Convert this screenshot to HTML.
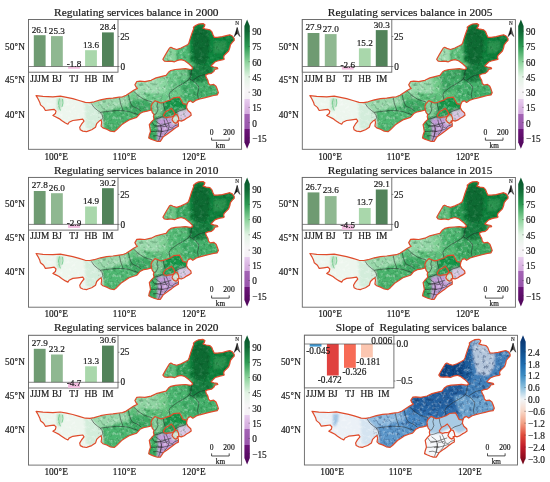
<!DOCTYPE html>
<html><head><meta charset="utf-8"><style>
html,body{margin:0;padding:0;background:#fff;width:550px;height:482px;overflow:hidden}
svg{display:block}
text{stroke:#1a1a1a;stroke-width:0.2px;paint-order:stroke}
</style></head><body>
<svg width="550" height="482" viewBox="0 0 550 482" font-family="'Liberation Serif', 'DejaVu Serif', serif" fill="#1a1a1a">

<defs>
<clipPath id="clipIM"><path d="M36.1,95.6 L42.9,96.4 L52.9,96.8 L60.4,96.2 L66.6,97.4 L72.8,98.7 L79.1,100.5 L85.3,102.4 L90.0,102.6 L94.2,101.8 L100.5,99.9 L106.7,98.7 L112.9,98.1 L119.1,97.2 L122.5,96.8 L126.2,95.3 L130.0,92.8 L133.7,90.3 L137.4,88.4 L136.2,87.2 L134.9,84.7 L136.8,81.5 L139.9,81.2 L144.9,81.6 L151.1,80.3 L156.1,77.9 L161.1,76.6 L166.1,75.4 L168.7,72.0 L170.9,70.5 L175.3,69.5 L180.4,69.1 L185.5,68.7 L190.5,69.5 L192.7,68.7 L192.0,66.9 L189.1,64.0 L184.7,60.7 L181.1,59.6 L177.5,60.4 L174.5,61.8 L170.9,61.1 L167.3,61.5 L164.4,61.1 L162.9,59.3 L165.1,55.3 L167.3,51.6 L169.5,48.0 L170.9,47.3 L173.1,48.4 L176.7,49.5 L181.1,48.0 L185.5,45.8 L188.0,44.4 L189.1,42.2 L190.0,39.2 L191.2,35.4 L192.5,31.7 L193.7,28.6 L193.4,27.3 L195.6,25.5 L198.7,24.0 L203.0,23.6 L204.9,24.8 L204.3,26.7 L203.0,28.2 L206.2,29.2 L209.9,29.8 L211.8,31.7 L213.0,34.8 L214.2,37.3 L217.4,37.3 L222.3,36.7 L227.3,35.4 L229.8,34.8 L232.3,36.0 L234.2,38.5 L234.2,40.4 L232.3,42.3 L230.4,44.8 L229.8,47.9 L228.6,51.0 L226.1,53.5 L224.2,55.4 L223.6,57.2 L224.2,59.1 L223.0,59.7 L219.8,60.3 L217.4,61.0 L214.9,62.0 L212.4,64.5 L211.0,66.0 L213.7,67.0 L217.2,67.6 L217.8,68.7 L214.9,69.3 L213.7,71.6 L211.4,73.4 L207.9,74.0 L205.6,75.1 L206.2,77.4 L207.9,80.3 L208.5,83.3 L210.2,85.0 L213.7,84.4 L216.0,86.2 L217.2,89.1 L218.4,92.6 L217.2,94.9 L213.7,95.5 L209.1,96.6 L204.4,97.8 L199.8,99.0 L196.3,100.1 L192.8,102.4 L190.5,100.7 L188.1,101.9 L187.0,104.5 L186.5,107.5 L188.0,110.5 L190.8,113.0 L191.2,115.3 L188.8,117.0 L186.5,118.2 L184.2,119.9 L181.3,121.1 L179.0,120.5 L177.2,121.1 L178.4,123.4 L178.4,126.3 L176.0,127.5 L173.7,129.2 L171.4,131.0 L169.1,132.7 L166.7,134.4 L163.3,136.8 L161.5,139.7 L160.3,141.4 L157.4,141.4 L154.0,140.3 L151.0,139.1 L148.7,137.9 L149.3,135.0 L150.5,131.5 L149.9,128.0 L149.3,124.6 L151.6,121.7 L154.0,119.3 L153.4,116.4 L154.0,114.7 L152.2,112.3 L151.6,110.0 L147.0,111.2 L143.5,111.8 L140.0,113.5 L137.8,116.1 L136.6,117.4 L132.8,118.6 L129.1,119.9 L125.4,122.3 L121.6,124.8 L119.1,127.3 L116.6,129.8 L114.2,131.7 L110.4,131.1 L106.7,129.2 L102.9,127.9 L101.1,126.1 L101.7,122.3 L101.1,119.9 L99.2,121.1 L96.7,123.6 L95.5,127.3 L91.7,129.8 L88.0,131.1 L86.5,131.7 L82.8,131.1 L80.3,129.8 L79.7,127.3 L81.5,124.2 L84.0,121.1 L82.8,119.2 L77.8,119.9 L72.8,120.5 L69.1,122.3 L67.9,124.2 L65.4,123.0 L61.6,120.5 L59.1,118.6 L55.4,116.7 L52.9,115.5 L55.4,113.6 L56.0,111.1 L54.2,109.3 L49.8,109.9 L45.4,110.5 L43.6,107.4 L40.5,104.9 L39.8,102.4 L38.0,98.7Z"/></clipPath>
<clipPath id="clipHB"><path d="M151.6,110.0 L151.0,106.5 L152.2,103.6 L155.1,100.7 L158.0,101.9 L160.3,103.0 L163.3,102.5 L166.7,101.3 L170.2,100.1 L173.7,97.8 L179.5,97.2 L181.3,100.1 L183.0,103.6 L187.0,104.5 L186.5,107.5 L188.0,110.5 L190.8,113.0 L191.2,115.3 L188.8,117.0 L186.5,118.2 L184.2,119.9 L181.3,121.1 L179.0,120.5 L177.2,121.1 L178.4,123.4 L178.4,126.3 L176.0,127.5 L173.7,129.2 L171.4,131.0 L169.1,132.7 L166.7,134.4 L163.3,136.8 L161.5,139.7 L160.3,141.4 L157.4,141.4 L154.0,140.3 L151.0,139.1 L148.7,137.9 L149.3,135.0 L150.5,131.5 L149.9,128.0 L149.3,124.6 L151.6,121.7 L154.0,119.3 L153.4,116.4 L154.0,114.7 L152.2,112.3Z"/></clipPath>
<filter id="specW" x="0" y="0" width="100%" height="100%" color-interpolation-filters="sRGB">
 <feTurbulence type="fractalNoise" baseFrequency="0.3" numOctaves="3" seed="7"/>
 <feColorMatrix type="matrix" values="0 0 0 0 1  0 0 0 0 1  0 0 0 0 1  -3 0 0 0 1.5"/>
</filter>
<filter id="specD" x="0" y="0" width="100%" height="100%" color-interpolation-filters="sRGB">
 <feTurbulence type="fractalNoise" baseFrequency="0.3" numOctaves="3" seed="3"/>
 <feColorMatrix type="matrix" values="0 0 0 0 0  0 0 0 0 0.25  0 0 0 0 0.1  3 0 0 0 -1.55"/>
</filter>
<mask id="mW" maskUnits="userSpaceOnUse" x="0" y="0" width="260" height="160">
 <rect x="0" y="0" width="260" height="160" fill="#fff"/>
 <g filter="url(#blur3)">
  <path d="M188,15 L245,15 L245,80 L212,80 L200,70 L190,64Z" fill="#444"/>
  <path d="M190,60 L215,60 L215,82 L190,82Z" fill="#777"/>
 </g>
</mask>
<filter id="specB" x="0" y="0" width="100%" height="100%" color-interpolation-filters="sRGB">
 <feTurbulence type="fractalNoise" baseFrequency="0.3" numOctaves="3" seed="3"/>
 <feColorMatrix type="matrix" values="0 0 0 0 0.02  0 0 0 0 0.12  0 0 0 0 0.3  3 0 0 0 -1.55"/>
</filter>
<mask id="mB" maskUnits="userSpaceOnUse" x="0" y="0" width="260" height="160">
 <rect x="0" y="0" width="260" height="160" fill="#fff"/>
 <path d="M151.6,110.0 L151.0,106.5 L152.2,103.6 L155.1,100.7 L158.0,101.9 L160.3,103.0 L163.3,102.5 L166.7,101.3 L170.2,100.1 L173.7,97.8 L179.5,97.2 L181.3,100.1 L183.0,103.6 L187.0,104.5 L186.5,107.5 L188.0,110.5 L190.8,113.0 L191.2,115.3 L188.8,117.0 L186.5,118.2 L184.2,119.9 L181.3,121.1 L179.0,120.5 L177.2,121.1 L178.4,123.4 L178.4,126.3 L176.0,127.5 L173.7,129.2 L171.4,131.0 L169.1,132.7 L166.7,134.4 L163.3,136.8 L161.5,139.7 L160.3,141.4 L157.4,141.4 L154.0,140.3 L151.0,139.1 L148.7,137.9 L149.3,135.0 L150.5,131.5 L149.9,128.0 L149.3,124.6 L151.6,121.7 L154.0,119.3 L153.4,116.4 L154.0,114.7 L152.2,112.3Z" fill="#000"/>
</mask>
<filter id="blur6" x="-50%" y="-50%" width="200%" height="200%"><feGaussianBlur stdDeviation="5"/></filter>
<filter id="blur3" x="-50%" y="-50%" width="200%" height="200%"><feGaussianBlur stdDeviation="2.5"/></filter>
<filter id="blur2" x="-50%" y="-50%" width="200%" height="200%"><feGaussianBlur stdDeviation="1.2"/></filter>
<linearGradient id="gGreenCB" gradientUnits="userSpaceOnUse" x1="0" y1="19.5" x2="0" y2="148.7">
 <stop offset="0.0000" stop-color="#08522a"/>
 <stop offset="0.0890" stop-color="#0e6834"/>
 <stop offset="0.2090" stop-color="#2c9a52"/>
 <stop offset="0.3289" stop-color="#8cd39b"/>
 <stop offset="0.4450" stop-color="#e2f3e4"/>
 <stop offset="0.5457" stop-color="#f7f5f7"/>
 <stop offset="0.6146" stop-color="#f5f0f6"/>
 <stop offset="0.6149" stop-color="#e8ceef"/>
 <stop offset="0.6695" stop-color="#dcb8e4"/>
 <stop offset="0.7276" stop-color="#d3a9de"/>
 <stop offset="0.7279" stop-color="#a363b4"/>
 <stop offset="0.8452" stop-color="#9855ab"/>
 <stop offset="0.8456" stop-color="#6b1478"/>
 <stop offset="1.0000" stop-color="#4d0558"/>
</linearGradient>
<linearGradient id="gSlopeCB" gradientUnits="userSpaceOnUse" x1="0" y1="19.5" x2="0" y2="148.7">
 <stop offset="0" stop-color="#08306b"/>
 <stop offset="0.1285" stop-color="#0f4f8f"/>
 <stop offset="0.2206" stop-color="#1c6aae"/>
 <stop offset="0.3127" stop-color="#3d8dc4"/>
 <stop offset="0.4048" stop-color="#8cc0de"/>
 <stop offset="0.4969" stop-color="#f2f5f7"/>
 <stop offset="0.5890" stop-color="#f8d8c8"/>
 <stop offset="0.6811" stop-color="#f2a084"/>
 <stop offset="0.7732" stop-color="#e04a3a"/>
 <stop offset="0.8653" stop-color="#c01a28"/>
 <stop offset="0.9574" stop-color="#8a0a1e"/>
 <stop offset="1" stop-color="#6a0618"/>
</linearGradient>
<g id="mapg0"><g clip-path="url(#clipIM)">
<g filter="url(#blur2)">
 <rect x="20" y="15" width="230" height="140" fill="#6fc98a"/>
 <path d="M0,80 L90,80 L90,103 L100,112 L104,117 L103,126 L100,145 L0,145Z" fill="#edf6ee"/>
 <path d="M84,100 L92,103 L100,113 L102,125 L97,132 L86,128Z" fill="#d3eddb"/>
 <path d="M90,100 L125,95 L130,104 L112,109 L100,112Z" fill="#9ad8ab"/>
 <path d="M102,112 L128,106 L140,110 L140,122 L118,134 L104,130Z" fill="#48b36c"/>
 <path d="M128,100 L150,100 L152,112 L138,116 L130,110Z" fill="#3ea964"/>
 <path d="M134,80 L170,70 L185,68 L190,80 L185,92 L160,96 L140,98 L134,92Z" fill="#8ad7a0"/>
 <path d="M134,80 L158,74 L160,96 L140,98 L134,92Z" fill="#9fdcb0"/>
 <path d="M166,70 L190,66 L192,82 L186,92 L168,94Z" fill="#6cc789"/>
 <path d="M140,92 L160,94 L182,90 L186,100 L150,104Z" fill="#6cc989"/>
 <path d="M178,80 L215,78 L222,100 L185,102Z" fill="#43af69"/>
 <path d="M186,62 L212,60 L215,80 L190,82Z" fill="#137f3f"/>
 <path d="M155,38 L180,38 L180,66 L155,66Z" fill="#86d49b"/>
 <path d="M176,38 L194,38 L196,66 L176,66Z" fill="#4fba74"/>
 <path d="M188,15 L245,15 L245,68 L215,66 L200,64 L190,62Z" fill="#0b853c"/>
 <path d="M192,30 L208,26 L210,45 L206,64 L194,64Z" fill="#0a6a32"/>
 <path d="M214,42 L226,42 L226,50 L214,54Z" fill="#2a9350"/>
 <path d="M57,98 L63,98 L62,106 L59,111 L57,109Z" fill="#b5e0c0"/>
</g>
<path d="M59.5,98.5 L58.5,103 L59,107 L60.5,110.5 M62.5,99 L63,103 L62,107" fill="none" stroke="#5cc47c" stroke-width="0.9" stroke-opacity="0.8"/>

<g clip-path="url(#clipHB)"><g filter="url(#blur2)">
 <rect x="140" y="90" width="60" height="60" fill="#c49bd9"/>
 <path d="M140,90 L200,90 L200,111 L186,113 L178,116 L165,118 L155,119 L140,119Z" fill="#17964a"/>
 <path d="M148,98 L163,98 L164,110 L160,117 L148,118Z" fill="#7cc992"/>
 <path d="M140,116 L156,116 L158,124 L157,145 L140,145Z" fill="#38aa5f"/>
 <path d="M163,108 L175,107 L175,116 L164,116Z" fill="#2c9f56"/>
 <path d="M178,111 L195,108 L195,124 L178,124Z" fill="#d9c6e4"/>
 <path d="M172,116 L179,116 L179,124 L172,124Z" fill="#d6e6d8"/>
</g></g>
<rect x="30" y="20" width="210" height="128" filter="url(#specW)" opacity="0.38" mask="url(#mW)"/><rect x="98" y="20" width="142" height="128" filter="url(#specD)" opacity="0.3" /></g>
<g fill="none" stroke="#222" stroke-width="0.6" stroke-opacity="0.85"><path d="M91.4,103.5 L93.9,107.3 L97.7,110.5 L100.3,112.4 L102.2,114.9 L102.8,117.5 L101.5,120.0"/><path d="M100.3,112.4 L105.4,111.7 L110.5,111.1 L116.8,110.5 L123.2,110.8 L128.3,111.3 L133.4,113.0 L137.2,114.3 L139.0,115.0"/><path d="M119.4,97.5 L120.6,103.5 L121.9,107.3 L123.2,110.8"/><path d="M128.3,94.5 L129.5,99.6 L130.8,103.5 L132.1,106.0 L135.9,107.9 L138.5,109.2 L141.0,111.1"/><path d="M133.4,91.0 L138.5,95.8 L143.5,99.0 L148.6,100.9 L152.5,102.0"/><path d="M191.6,69.2 L190.9,75.4 L189.5,79.0 L186.5,81.2 L182.2,84.1 L177.8,86.3 L174.9,88.5 L172.0,90.6 L169.8,92.8 L169.1,95.0 L170.2,100.1"/><path d="M189.5,79.0 L193.8,81.2 L196.7,84.1 L198.9,87.0 L198.2,91.4 L197.5,94.3 L198.2,97.9 L199.0,99.0"/><path d="M193.3,79.9 L197.0,77.5 L200.0,75.7 L204.9,74.6"/><path d="M154.0,119.3 L158.0,118.5 L162.0,117.0 L164.4,117.0"/><path d="M165.9,118.3 L167.6,121.6 L169.2,125.7 L168.4,129.1 L166.7,132.4 L164.3,134.9"/><path d="M151.6,121.7 L154.3,125.7 L159.3,125.7 L164.3,126.6 L168.4,125.7"/><path d="M150.5,131.5 L155.1,131.6 L160.1,130.7 L163.4,131.6"/><path d="M161.8,127.4 L160.9,132.4 L160.1,136.5 L158.5,141.0"/><path d="M169.2,127.0 L172.0,128.0 L175.0,125.7 L178.4,124.5"/><path d="M163.3,102.5 L164.0,107.0 L165.6,111.8"/><path d="M174.9,113.5 L179.0,111.0 L184.0,109.5 L186.5,107.5"/><path d="M158.0,101.9 L157.0,106.0 L158.0,110.0 L156.0,114.0 L154.0,114.7"/><path d="M154.4,127.1 L160.0,126.0 L164.0,124.6 L171.3,122.2"/><path d="M158.0,131.9 L162.0,131.5 L166.4,130.7 L173.7,128.3"/><path d="M155.6,121.0 L160.4,124.6 L161.6,130.7 L160.4,136.7"/><path d="M164.0,119.8 L165.2,124.6 L167.6,128.3"/><path d="M153.0,136.0 L157.0,135.5 L160.4,136.7 L163.3,136.8"/></g>
<g fill="none" stroke="#df4b2b" stroke-width="1.2" stroke-linejoin="round"><path d="M151.6,110.0 L151.0,106.5 L152.2,103.6 L155.1,100.7 L158.0,101.9 L160.3,103.0 L163.3,102.5 L166.7,101.3 L170.2,100.1 L173.7,97.8 L179.5,97.2 L181.3,100.1 L183.0,103.6 L187.0,104.5"/><path d="M163.3,115.3 L165.6,111.8 L169.1,110.0 L171.4,108.3 L173.7,111.2 L174.9,113.5 L174.3,115.8 L171.4,117.0 L169.1,117.0 L166.7,117.6 L164.4,117.0Z"/><path d="M174.9,114.1 L177.2,114.7 L178.4,117.0 L179.0,120.5 L177.2,122.2 L176.0,123.4 L173.7,122.2 L172.0,119.9 L173.1,117.0Z"/><path d="M36.1,95.6 L42.9,96.4 L52.9,96.8 L60.4,96.2 L66.6,97.4 L72.8,98.7 L79.1,100.5 L85.3,102.4 L90.0,102.6 L94.2,101.8 L100.5,99.9 L106.7,98.7 L112.9,98.1 L119.1,97.2 L122.5,96.8 L126.2,95.3 L130.0,92.8 L133.7,90.3 L137.4,88.4 L136.2,87.2 L134.9,84.7 L136.8,81.5 L139.9,81.2 L144.9,81.6 L151.1,80.3 L156.1,77.9 L161.1,76.6 L166.1,75.4 L168.7,72.0 L170.9,70.5 L175.3,69.5 L180.4,69.1 L185.5,68.7 L190.5,69.5 L192.7,68.7 L192.0,66.9 L189.1,64.0 L184.7,60.7 L181.1,59.6 L177.5,60.4 L174.5,61.8 L170.9,61.1 L167.3,61.5 L164.4,61.1 L162.9,59.3 L165.1,55.3 L167.3,51.6 L169.5,48.0 L170.9,47.3 L173.1,48.4 L176.7,49.5 L181.1,48.0 L185.5,45.8 L188.0,44.4 L189.1,42.2 L190.0,39.2 L191.2,35.4 L192.5,31.7 L193.7,28.6 L193.4,27.3 L195.6,25.5 L198.7,24.0 L203.0,23.6 L204.9,24.8 L204.3,26.7 L203.0,28.2 L206.2,29.2 L209.9,29.8 L211.8,31.7 L213.0,34.8 L214.2,37.3 L217.4,37.3 L222.3,36.7 L227.3,35.4 L229.8,34.8 L232.3,36.0 L234.2,38.5 L234.2,40.4 L232.3,42.3 L230.4,44.8 L229.8,47.9 L228.6,51.0 L226.1,53.5 L224.2,55.4 L223.6,57.2 L224.2,59.1 L223.0,59.7 L219.8,60.3 L217.4,61.0 L214.9,62.0 L212.4,64.5 L211.0,66.0 L213.7,67.0 L217.2,67.6 L217.8,68.7 L214.9,69.3 L213.7,71.6 L211.4,73.4 L207.9,74.0 L205.6,75.1 L206.2,77.4 L207.9,80.3 L208.5,83.3 L210.2,85.0 L213.7,84.4 L216.0,86.2 L217.2,89.1 L218.4,92.6 L217.2,94.9 L213.7,95.5 L209.1,96.6 L204.4,97.8 L199.8,99.0 L196.3,100.1 L192.8,102.4 L190.5,100.7 L188.1,101.9 L187.0,104.5 L186.5,107.5 L188.0,110.5 L190.8,113.0 L191.2,115.3 L188.8,117.0 L186.5,118.2 L184.2,119.9 L181.3,121.1 L179.0,120.5 L177.2,121.1 L178.4,123.4 L178.4,126.3 L176.0,127.5 L173.7,129.2 L171.4,131.0 L169.1,132.7 L166.7,134.4 L163.3,136.8 L161.5,139.7 L160.3,141.4 L157.4,141.4 L154.0,140.3 L151.0,139.1 L148.7,137.9 L149.3,135.0 L150.5,131.5 L149.9,128.0 L149.3,124.6 L151.6,121.7 L154.0,119.3 L153.4,116.4 L154.0,114.7 L152.2,112.3 L151.6,110.0 L147.0,111.2 L143.5,111.8 L140.0,113.5 L137.8,116.1 L136.6,117.4 L132.8,118.6 L129.1,119.9 L125.4,122.3 L121.6,124.8 L119.1,127.3 L116.6,129.8 L114.2,131.7 L110.4,131.1 L106.7,129.2 L102.9,127.9 L101.1,126.1 L101.7,122.3 L101.1,119.9 L99.2,121.1 L96.7,123.6 L95.5,127.3 L91.7,129.8 L88.0,131.1 L86.5,131.7 L82.8,131.1 L80.3,129.8 L79.7,127.3 L81.5,124.2 L84.0,121.1 L82.8,119.2 L77.8,119.9 L72.8,120.5 L69.1,122.3 L67.9,124.2 L65.4,123.0 L61.6,120.5 L59.1,118.6 L55.4,116.7 L52.9,115.5 L55.4,113.6 L56.0,111.1 L54.2,109.3 L49.8,109.9 L45.4,110.5 L43.6,107.4 L40.5,104.9 L39.8,102.4 L38.0,98.7Z"/></g>
</g><g id="mapg1"><g clip-path="url(#clipIM)">
<g filter="url(#blur2)">
 <rect x="20" y="15" width="230" height="140" fill="#5fc07c"/>
 <path d="M0,80 L90,80 L90,103 L100,112 L104,117 L103,126 L100,145 L0,145Z" fill="#edf6ee"/>
 <path d="M84,100 L92,103 L100,113 L102,125 L97,132 L86,128Z" fill="#d3eddb"/>
 <path d="M90,100 L125,95 L130,104 L112,109 L100,112Z" fill="#9ad8ab"/>
 <path d="M102,112 L128,106 L140,110 L140,122 L118,134 L104,130Z" fill="#4fb872"/>
 <path d="M128,100 L150,100 L152,112 L138,116 L130,110Z" fill="#3ea964"/>
 <path d="M134,80 L170,70 L185,68 L190,80 L185,92 L160,96 L140,98 L134,92Z" fill="#6fca88"/>
 <path d="M134,80 L158,74 L160,96 L140,98 L134,92Z" fill="#98d9aa"/>
 <path d="M166,70 L190,66 L192,82 L186,92 L168,94Z" fill="#3fa965"/>
 <path d="M140,92 L160,94 L182,90 L186,100 L150,104Z" fill="#5cbf7a"/>
 <path d="M178,80 L215,78 L222,100 L185,102Z" fill="#43af69"/>
 <path d="M186,62 L212,60 L215,80 L190,82Z" fill="#137f3f"/>
 <path d="M155,38 L180,38 L180,66 L155,66Z" fill="#a0dcb0"/>
 <path d="M176,38 L194,38 L196,66 L176,66Z" fill="#5cbf7a"/>
 <path d="M188,15 L245,15 L245,68 L215,66 L200,64 L190,62Z" fill="#0b7f3a"/>
 <path d="M192,30 L208,26 L210,45 L206,64 L194,64Z" fill="#0a6a32"/>
 <path d="M214,42 L226,42 L226,50 L214,54Z" fill="#2a9350"/>
 <path d="M57,98 L63,98 L62,106 L59,111 L57,109Z" fill="#b5e0c0"/>
</g>
<path d="M59.5,98.5 L58.5,103 L59,107 L60.5,110.5 M62.5,99 L63,103 L62,107" fill="none" stroke="#5cc47c" stroke-width="0.9" stroke-opacity="0.8"/>

<g clip-path="url(#clipHB)"><g filter="url(#blur2)">
 <rect x="140" y="90" width="60" height="60" fill="#c49bd9"/>
 <path d="M140,90 L200,90 L200,111 L186,113 L178,116 L165,118 L155,119 L140,119Z" fill="#17964a"/>
 <path d="M148,98 L163,98 L164,110 L160,117 L148,118Z" fill="#7cc992"/>
 <path d="M140,116 L156,116 L158,124 L157,145 L140,145Z" fill="#38aa5f"/>
 <path d="M163,108 L175,107 L175,116 L164,116Z" fill="#2c9f56"/>
 <path d="M178,111 L195,108 L195,124 L178,124Z" fill="#d9c6e4"/>
 <path d="M172,116 L179,116 L179,124 L172,124Z" fill="#d6e6d8"/>
</g></g>
<rect x="30" y="20" width="210" height="128" filter="url(#specW)" opacity="0.38" mask="url(#mW)"/><rect x="98" y="20" width="142" height="128" filter="url(#specD)" opacity="0.3" /></g>
<g fill="none" stroke="#222" stroke-width="0.6" stroke-opacity="0.85"><path d="M91.4,103.5 L93.9,107.3 L97.7,110.5 L100.3,112.4 L102.2,114.9 L102.8,117.5 L101.5,120.0"/><path d="M100.3,112.4 L105.4,111.7 L110.5,111.1 L116.8,110.5 L123.2,110.8 L128.3,111.3 L133.4,113.0 L137.2,114.3 L139.0,115.0"/><path d="M119.4,97.5 L120.6,103.5 L121.9,107.3 L123.2,110.8"/><path d="M128.3,94.5 L129.5,99.6 L130.8,103.5 L132.1,106.0 L135.9,107.9 L138.5,109.2 L141.0,111.1"/><path d="M133.4,91.0 L138.5,95.8 L143.5,99.0 L148.6,100.9 L152.5,102.0"/><path d="M191.6,69.2 L190.9,75.4 L189.5,79.0 L186.5,81.2 L182.2,84.1 L177.8,86.3 L174.9,88.5 L172.0,90.6 L169.8,92.8 L169.1,95.0 L170.2,100.1"/><path d="M189.5,79.0 L193.8,81.2 L196.7,84.1 L198.9,87.0 L198.2,91.4 L197.5,94.3 L198.2,97.9 L199.0,99.0"/><path d="M193.3,79.9 L197.0,77.5 L200.0,75.7 L204.9,74.6"/><path d="M154.0,119.3 L158.0,118.5 L162.0,117.0 L164.4,117.0"/><path d="M165.9,118.3 L167.6,121.6 L169.2,125.7 L168.4,129.1 L166.7,132.4 L164.3,134.9"/><path d="M151.6,121.7 L154.3,125.7 L159.3,125.7 L164.3,126.6 L168.4,125.7"/><path d="M150.5,131.5 L155.1,131.6 L160.1,130.7 L163.4,131.6"/><path d="M161.8,127.4 L160.9,132.4 L160.1,136.5 L158.5,141.0"/><path d="M169.2,127.0 L172.0,128.0 L175.0,125.7 L178.4,124.5"/><path d="M163.3,102.5 L164.0,107.0 L165.6,111.8"/><path d="M174.9,113.5 L179.0,111.0 L184.0,109.5 L186.5,107.5"/><path d="M158.0,101.9 L157.0,106.0 L158.0,110.0 L156.0,114.0 L154.0,114.7"/><path d="M154.4,127.1 L160.0,126.0 L164.0,124.6 L171.3,122.2"/><path d="M158.0,131.9 L162.0,131.5 L166.4,130.7 L173.7,128.3"/><path d="M155.6,121.0 L160.4,124.6 L161.6,130.7 L160.4,136.7"/><path d="M164.0,119.8 L165.2,124.6 L167.6,128.3"/><path d="M153.0,136.0 L157.0,135.5 L160.4,136.7 L163.3,136.8"/></g>
<g fill="none" stroke="#df4b2b" stroke-width="1.2" stroke-linejoin="round"><path d="M151.6,110.0 L151.0,106.5 L152.2,103.6 L155.1,100.7 L158.0,101.9 L160.3,103.0 L163.3,102.5 L166.7,101.3 L170.2,100.1 L173.7,97.8 L179.5,97.2 L181.3,100.1 L183.0,103.6 L187.0,104.5"/><path d="M163.3,115.3 L165.6,111.8 L169.1,110.0 L171.4,108.3 L173.7,111.2 L174.9,113.5 L174.3,115.8 L171.4,117.0 L169.1,117.0 L166.7,117.6 L164.4,117.0Z"/><path d="M174.9,114.1 L177.2,114.7 L178.4,117.0 L179.0,120.5 L177.2,122.2 L176.0,123.4 L173.7,122.2 L172.0,119.9 L173.1,117.0Z"/><path d="M36.1,95.6 L42.9,96.4 L52.9,96.8 L60.4,96.2 L66.6,97.4 L72.8,98.7 L79.1,100.5 L85.3,102.4 L90.0,102.6 L94.2,101.8 L100.5,99.9 L106.7,98.7 L112.9,98.1 L119.1,97.2 L122.5,96.8 L126.2,95.3 L130.0,92.8 L133.7,90.3 L137.4,88.4 L136.2,87.2 L134.9,84.7 L136.8,81.5 L139.9,81.2 L144.9,81.6 L151.1,80.3 L156.1,77.9 L161.1,76.6 L166.1,75.4 L168.7,72.0 L170.9,70.5 L175.3,69.5 L180.4,69.1 L185.5,68.7 L190.5,69.5 L192.7,68.7 L192.0,66.9 L189.1,64.0 L184.7,60.7 L181.1,59.6 L177.5,60.4 L174.5,61.8 L170.9,61.1 L167.3,61.5 L164.4,61.1 L162.9,59.3 L165.1,55.3 L167.3,51.6 L169.5,48.0 L170.9,47.3 L173.1,48.4 L176.7,49.5 L181.1,48.0 L185.5,45.8 L188.0,44.4 L189.1,42.2 L190.0,39.2 L191.2,35.4 L192.5,31.7 L193.7,28.6 L193.4,27.3 L195.6,25.5 L198.7,24.0 L203.0,23.6 L204.9,24.8 L204.3,26.7 L203.0,28.2 L206.2,29.2 L209.9,29.8 L211.8,31.7 L213.0,34.8 L214.2,37.3 L217.4,37.3 L222.3,36.7 L227.3,35.4 L229.8,34.8 L232.3,36.0 L234.2,38.5 L234.2,40.4 L232.3,42.3 L230.4,44.8 L229.8,47.9 L228.6,51.0 L226.1,53.5 L224.2,55.4 L223.6,57.2 L224.2,59.1 L223.0,59.7 L219.8,60.3 L217.4,61.0 L214.9,62.0 L212.4,64.5 L211.0,66.0 L213.7,67.0 L217.2,67.6 L217.8,68.7 L214.9,69.3 L213.7,71.6 L211.4,73.4 L207.9,74.0 L205.6,75.1 L206.2,77.4 L207.9,80.3 L208.5,83.3 L210.2,85.0 L213.7,84.4 L216.0,86.2 L217.2,89.1 L218.4,92.6 L217.2,94.9 L213.7,95.5 L209.1,96.6 L204.4,97.8 L199.8,99.0 L196.3,100.1 L192.8,102.4 L190.5,100.7 L188.1,101.9 L187.0,104.5 L186.5,107.5 L188.0,110.5 L190.8,113.0 L191.2,115.3 L188.8,117.0 L186.5,118.2 L184.2,119.9 L181.3,121.1 L179.0,120.5 L177.2,121.1 L178.4,123.4 L178.4,126.3 L176.0,127.5 L173.7,129.2 L171.4,131.0 L169.1,132.7 L166.7,134.4 L163.3,136.8 L161.5,139.7 L160.3,141.4 L157.4,141.4 L154.0,140.3 L151.0,139.1 L148.7,137.9 L149.3,135.0 L150.5,131.5 L149.9,128.0 L149.3,124.6 L151.6,121.7 L154.0,119.3 L153.4,116.4 L154.0,114.7 L152.2,112.3 L151.6,110.0 L147.0,111.2 L143.5,111.8 L140.0,113.5 L137.8,116.1 L136.6,117.4 L132.8,118.6 L129.1,119.9 L125.4,122.3 L121.6,124.8 L119.1,127.3 L116.6,129.8 L114.2,131.7 L110.4,131.1 L106.7,129.2 L102.9,127.9 L101.1,126.1 L101.7,122.3 L101.1,119.9 L99.2,121.1 L96.7,123.6 L95.5,127.3 L91.7,129.8 L88.0,131.1 L86.5,131.7 L82.8,131.1 L80.3,129.8 L79.7,127.3 L81.5,124.2 L84.0,121.1 L82.8,119.2 L77.8,119.9 L72.8,120.5 L69.1,122.3 L67.9,124.2 L65.4,123.0 L61.6,120.5 L59.1,118.6 L55.4,116.7 L52.9,115.5 L55.4,113.6 L56.0,111.1 L54.2,109.3 L49.8,109.9 L45.4,110.5 L43.6,107.4 L40.5,104.9 L39.8,102.4 L38.0,98.7Z"/></g>
</g><g id="mapg2"><g clip-path="url(#clipIM)">
<g filter="url(#blur2)">
 <rect x="20" y="15" width="230" height="140" fill="#62c27f"/>
 <path d="M0,80 L90,80 L90,103 L100,112 L104,117 L103,126 L100,145 L0,145Z" fill="#edf6ee"/>
 <path d="M84,100 L92,103 L100,113 L102,125 L97,132 L86,128Z" fill="#d3eddb"/>
 <path d="M90,100 L125,95 L130,104 L112,109 L100,112Z" fill="#9ad8ab"/>
 <path d="M102,112 L128,106 L140,110 L140,122 L118,134 L104,130Z" fill="#4fb872"/>
 <path d="M128,100 L150,100 L152,112 L138,116 L130,110Z" fill="#3ea964"/>
 <path d="M134,80 L170,70 L185,68 L190,80 L185,92 L160,96 L140,98 L134,92Z" fill="#7fcf94"/>
 <path d="M134,80 L158,74 L160,96 L140,98 L134,92Z" fill="#9ad9ab"/>
 <path d="M166,70 L190,66 L192,82 L186,92 L168,94Z" fill="#55bb76"/>
 <path d="M140,92 L160,94 L182,90 L186,100 L150,104Z" fill="#5fc07c"/>
 <path d="M178,80 L215,78 L222,100 L185,102Z" fill="#43af69"/>
 <path d="M186,62 L212,60 L215,80 L190,82Z" fill="#137f3f"/>
 <path d="M155,38 L180,38 L180,66 L155,66Z" fill="#6cc585"/>
 <path d="M176,38 L194,38 L196,66 L176,66Z" fill="#3aa862"/>
 <path d="M188,15 L245,15 L245,68 L215,66 L200,64 L190,62Z" fill="#0b7f3a"/>
 <path d="M192,30 L208,26 L210,45 L206,64 L194,64Z" fill="#0a6a32"/>
 <path d="M214,42 L226,42 L226,50 L214,54Z" fill="#2a9350"/>
 <path d="M57,98 L63,98 L62,106 L59,111 L57,109Z" fill="#b5e0c0"/>
</g>
<path d="M59.5,98.5 L58.5,103 L59,107 L60.5,110.5 M62.5,99 L63,103 L62,107" fill="none" stroke="#5cc47c" stroke-width="0.9" stroke-opacity="0.8"/>

<g clip-path="url(#clipHB)"><g filter="url(#blur2)">
 <rect x="140" y="90" width="60" height="60" fill="#c49bd9"/>
 <path d="M140,90 L200,90 L200,111 L186,113 L178,116 L165,118 L155,119 L140,119Z" fill="#17964a"/>
 <path d="M148,98 L163,98 L164,110 L160,117 L148,118Z" fill="#7cc992"/>
 <path d="M140,116 L156,116 L158,124 L157,145 L140,145Z" fill="#38aa5f"/>
 <path d="M163,108 L175,107 L175,116 L164,116Z" fill="#2c9f56"/>
 <path d="M178,111 L195,108 L195,124 L178,124Z" fill="#d9c6e4"/>
 <path d="M172,116 L179,116 L179,124 L172,124Z" fill="#d6e6d8"/>
</g></g>
<rect x="30" y="20" width="210" height="128" filter="url(#specW)" opacity="0.38" mask="url(#mW)"/><rect x="98" y="20" width="142" height="128" filter="url(#specD)" opacity="0.3" /></g>
<g fill="none" stroke="#222" stroke-width="0.6" stroke-opacity="0.85"><path d="M91.4,103.5 L93.9,107.3 L97.7,110.5 L100.3,112.4 L102.2,114.9 L102.8,117.5 L101.5,120.0"/><path d="M100.3,112.4 L105.4,111.7 L110.5,111.1 L116.8,110.5 L123.2,110.8 L128.3,111.3 L133.4,113.0 L137.2,114.3 L139.0,115.0"/><path d="M119.4,97.5 L120.6,103.5 L121.9,107.3 L123.2,110.8"/><path d="M128.3,94.5 L129.5,99.6 L130.8,103.5 L132.1,106.0 L135.9,107.9 L138.5,109.2 L141.0,111.1"/><path d="M133.4,91.0 L138.5,95.8 L143.5,99.0 L148.6,100.9 L152.5,102.0"/><path d="M191.6,69.2 L190.9,75.4 L189.5,79.0 L186.5,81.2 L182.2,84.1 L177.8,86.3 L174.9,88.5 L172.0,90.6 L169.8,92.8 L169.1,95.0 L170.2,100.1"/><path d="M189.5,79.0 L193.8,81.2 L196.7,84.1 L198.9,87.0 L198.2,91.4 L197.5,94.3 L198.2,97.9 L199.0,99.0"/><path d="M193.3,79.9 L197.0,77.5 L200.0,75.7 L204.9,74.6"/><path d="M154.0,119.3 L158.0,118.5 L162.0,117.0 L164.4,117.0"/><path d="M165.9,118.3 L167.6,121.6 L169.2,125.7 L168.4,129.1 L166.7,132.4 L164.3,134.9"/><path d="M151.6,121.7 L154.3,125.7 L159.3,125.7 L164.3,126.6 L168.4,125.7"/><path d="M150.5,131.5 L155.1,131.6 L160.1,130.7 L163.4,131.6"/><path d="M161.8,127.4 L160.9,132.4 L160.1,136.5 L158.5,141.0"/><path d="M169.2,127.0 L172.0,128.0 L175.0,125.7 L178.4,124.5"/><path d="M163.3,102.5 L164.0,107.0 L165.6,111.8"/><path d="M174.9,113.5 L179.0,111.0 L184.0,109.5 L186.5,107.5"/><path d="M158.0,101.9 L157.0,106.0 L158.0,110.0 L156.0,114.0 L154.0,114.7"/><path d="M154.4,127.1 L160.0,126.0 L164.0,124.6 L171.3,122.2"/><path d="M158.0,131.9 L162.0,131.5 L166.4,130.7 L173.7,128.3"/><path d="M155.6,121.0 L160.4,124.6 L161.6,130.7 L160.4,136.7"/><path d="M164.0,119.8 L165.2,124.6 L167.6,128.3"/><path d="M153.0,136.0 L157.0,135.5 L160.4,136.7 L163.3,136.8"/></g>
<g fill="none" stroke="#df4b2b" stroke-width="1.2" stroke-linejoin="round"><path d="M151.6,110.0 L151.0,106.5 L152.2,103.6 L155.1,100.7 L158.0,101.9 L160.3,103.0 L163.3,102.5 L166.7,101.3 L170.2,100.1 L173.7,97.8 L179.5,97.2 L181.3,100.1 L183.0,103.6 L187.0,104.5"/><path d="M163.3,115.3 L165.6,111.8 L169.1,110.0 L171.4,108.3 L173.7,111.2 L174.9,113.5 L174.3,115.8 L171.4,117.0 L169.1,117.0 L166.7,117.6 L164.4,117.0Z"/><path d="M174.9,114.1 L177.2,114.7 L178.4,117.0 L179.0,120.5 L177.2,122.2 L176.0,123.4 L173.7,122.2 L172.0,119.9 L173.1,117.0Z"/><path d="M36.1,95.6 L42.9,96.4 L52.9,96.8 L60.4,96.2 L66.6,97.4 L72.8,98.7 L79.1,100.5 L85.3,102.4 L90.0,102.6 L94.2,101.8 L100.5,99.9 L106.7,98.7 L112.9,98.1 L119.1,97.2 L122.5,96.8 L126.2,95.3 L130.0,92.8 L133.7,90.3 L137.4,88.4 L136.2,87.2 L134.9,84.7 L136.8,81.5 L139.9,81.2 L144.9,81.6 L151.1,80.3 L156.1,77.9 L161.1,76.6 L166.1,75.4 L168.7,72.0 L170.9,70.5 L175.3,69.5 L180.4,69.1 L185.5,68.7 L190.5,69.5 L192.7,68.7 L192.0,66.9 L189.1,64.0 L184.7,60.7 L181.1,59.6 L177.5,60.4 L174.5,61.8 L170.9,61.1 L167.3,61.5 L164.4,61.1 L162.9,59.3 L165.1,55.3 L167.3,51.6 L169.5,48.0 L170.9,47.3 L173.1,48.4 L176.7,49.5 L181.1,48.0 L185.5,45.8 L188.0,44.4 L189.1,42.2 L190.0,39.2 L191.2,35.4 L192.5,31.7 L193.7,28.6 L193.4,27.3 L195.6,25.5 L198.7,24.0 L203.0,23.6 L204.9,24.8 L204.3,26.7 L203.0,28.2 L206.2,29.2 L209.9,29.8 L211.8,31.7 L213.0,34.8 L214.2,37.3 L217.4,37.3 L222.3,36.7 L227.3,35.4 L229.8,34.8 L232.3,36.0 L234.2,38.5 L234.2,40.4 L232.3,42.3 L230.4,44.8 L229.8,47.9 L228.6,51.0 L226.1,53.5 L224.2,55.4 L223.6,57.2 L224.2,59.1 L223.0,59.7 L219.8,60.3 L217.4,61.0 L214.9,62.0 L212.4,64.5 L211.0,66.0 L213.7,67.0 L217.2,67.6 L217.8,68.7 L214.9,69.3 L213.7,71.6 L211.4,73.4 L207.9,74.0 L205.6,75.1 L206.2,77.4 L207.9,80.3 L208.5,83.3 L210.2,85.0 L213.7,84.4 L216.0,86.2 L217.2,89.1 L218.4,92.6 L217.2,94.9 L213.7,95.5 L209.1,96.6 L204.4,97.8 L199.8,99.0 L196.3,100.1 L192.8,102.4 L190.5,100.7 L188.1,101.9 L187.0,104.5 L186.5,107.5 L188.0,110.5 L190.8,113.0 L191.2,115.3 L188.8,117.0 L186.5,118.2 L184.2,119.9 L181.3,121.1 L179.0,120.5 L177.2,121.1 L178.4,123.4 L178.4,126.3 L176.0,127.5 L173.7,129.2 L171.4,131.0 L169.1,132.7 L166.7,134.4 L163.3,136.8 L161.5,139.7 L160.3,141.4 L157.4,141.4 L154.0,140.3 L151.0,139.1 L148.7,137.9 L149.3,135.0 L150.5,131.5 L149.9,128.0 L149.3,124.6 L151.6,121.7 L154.0,119.3 L153.4,116.4 L154.0,114.7 L152.2,112.3 L151.6,110.0 L147.0,111.2 L143.5,111.8 L140.0,113.5 L137.8,116.1 L136.6,117.4 L132.8,118.6 L129.1,119.9 L125.4,122.3 L121.6,124.8 L119.1,127.3 L116.6,129.8 L114.2,131.7 L110.4,131.1 L106.7,129.2 L102.9,127.9 L101.1,126.1 L101.7,122.3 L101.1,119.9 L99.2,121.1 L96.7,123.6 L95.5,127.3 L91.7,129.8 L88.0,131.1 L86.5,131.7 L82.8,131.1 L80.3,129.8 L79.7,127.3 L81.5,124.2 L84.0,121.1 L82.8,119.2 L77.8,119.9 L72.8,120.5 L69.1,122.3 L67.9,124.2 L65.4,123.0 L61.6,120.5 L59.1,118.6 L55.4,116.7 L52.9,115.5 L55.4,113.6 L56.0,111.1 L54.2,109.3 L49.8,109.9 L45.4,110.5 L43.6,107.4 L40.5,104.9 L39.8,102.4 L38.0,98.7Z"/></g>
</g><g id="mapg3"><g clip-path="url(#clipIM)">
<g filter="url(#blur2)">
 <rect x="20" y="15" width="230" height="140" fill="#55bb76"/>
 <path d="M0,80 L90,80 L90,103 L100,112 L104,117 L103,126 L100,145 L0,145Z" fill="#edf6ee"/>
 <path d="M84,100 L92,103 L100,113 L102,125 L97,132 L86,128Z" fill="#d3eddb"/>
 <path d="M90,100 L125,95 L130,104 L112,109 L100,112Z" fill="#9ad8ab"/>
 <path d="M102,112 L128,106 L140,110 L140,122 L118,134 L104,130Z" fill="#48b36c"/>
 <path d="M128,100 L150,100 L152,112 L138,116 L130,110Z" fill="#3ea964"/>
 <path d="M134,80 L170,70 L185,68 L190,80 L185,92 L160,96 L140,98 L134,92Z" fill="#7fcf94"/>
 <path d="M134,80 L158,74 L160,96 L140,98 L134,92Z" fill="#94d7a7"/>
 <path d="M166,70 L190,66 L192,82 L186,92 L168,94Z" fill="#4fb872"/>
 <path d="M140,92 L160,94 L182,90 L186,100 L150,104Z" fill="#5cbf7a"/>
 <path d="M178,80 L215,78 L222,100 L185,102Z" fill="#3aa860"/>
 <path d="M186,62 L212,60 L215,80 L190,82Z" fill="#137f3f"/>
 <path d="M155,38 L180,38 L180,66 L155,66Z" fill="#5fbd7b"/>
 <path d="M176,38 L194,38 L196,66 L176,66Z" fill="#2a9a52"/>
 <path d="M188,15 L245,15 L245,68 L215,66 L200,64 L190,62Z" fill="#0b7f3a"/>
 <path d="M192,30 L208,26 L210,45 L206,64 L194,64Z" fill="#0a6a32"/>
 <path d="M214,42 L226,42 L226,50 L214,54Z" fill="#2a9350"/>
 <path d="M57,98 L63,98 L62,106 L59,111 L57,109Z" fill="#b5e0c0"/>
</g>
<path d="M59.5,98.5 L58.5,103 L59,107 L60.5,110.5 M62.5,99 L63,103 L62,107" fill="none" stroke="#5cc47c" stroke-width="0.9" stroke-opacity="0.8"/>

<g clip-path="url(#clipHB)"><g filter="url(#blur2)">
 <rect x="140" y="90" width="60" height="60" fill="#c49bd9"/>
 <path d="M140,90 L200,90 L200,111 L186,113 L178,116 L165,118 L155,119 L140,119Z" fill="#17964a"/>
 <path d="M148,98 L163,98 L164,110 L160,117 L148,118Z" fill="#7cc992"/>
 <path d="M140,116 L156,116 L158,124 L157,145 L140,145Z" fill="#38aa5f"/>
 <path d="M163,108 L175,107 L175,116 L164,116Z" fill="#2c9f56"/>
 <path d="M178,111 L195,108 L195,124 L178,124Z" fill="#d9c6e4"/>
 <path d="M172,116 L179,116 L179,124 L172,124Z" fill="#d6e6d8"/>
</g></g>
<rect x="30" y="20" width="210" height="128" filter="url(#specW)" opacity="0.38" mask="url(#mW)"/><rect x="98" y="20" width="142" height="128" filter="url(#specD)" opacity="0.3" /></g>
<g fill="none" stroke="#222" stroke-width="0.6" stroke-opacity="0.85"><path d="M91.4,103.5 L93.9,107.3 L97.7,110.5 L100.3,112.4 L102.2,114.9 L102.8,117.5 L101.5,120.0"/><path d="M100.3,112.4 L105.4,111.7 L110.5,111.1 L116.8,110.5 L123.2,110.8 L128.3,111.3 L133.4,113.0 L137.2,114.3 L139.0,115.0"/><path d="M119.4,97.5 L120.6,103.5 L121.9,107.3 L123.2,110.8"/><path d="M128.3,94.5 L129.5,99.6 L130.8,103.5 L132.1,106.0 L135.9,107.9 L138.5,109.2 L141.0,111.1"/><path d="M133.4,91.0 L138.5,95.8 L143.5,99.0 L148.6,100.9 L152.5,102.0"/><path d="M191.6,69.2 L190.9,75.4 L189.5,79.0 L186.5,81.2 L182.2,84.1 L177.8,86.3 L174.9,88.5 L172.0,90.6 L169.8,92.8 L169.1,95.0 L170.2,100.1"/><path d="M189.5,79.0 L193.8,81.2 L196.7,84.1 L198.9,87.0 L198.2,91.4 L197.5,94.3 L198.2,97.9 L199.0,99.0"/><path d="M193.3,79.9 L197.0,77.5 L200.0,75.7 L204.9,74.6"/><path d="M154.0,119.3 L158.0,118.5 L162.0,117.0 L164.4,117.0"/><path d="M165.9,118.3 L167.6,121.6 L169.2,125.7 L168.4,129.1 L166.7,132.4 L164.3,134.9"/><path d="M151.6,121.7 L154.3,125.7 L159.3,125.7 L164.3,126.6 L168.4,125.7"/><path d="M150.5,131.5 L155.1,131.6 L160.1,130.7 L163.4,131.6"/><path d="M161.8,127.4 L160.9,132.4 L160.1,136.5 L158.5,141.0"/><path d="M169.2,127.0 L172.0,128.0 L175.0,125.7 L178.4,124.5"/><path d="M163.3,102.5 L164.0,107.0 L165.6,111.8"/><path d="M174.9,113.5 L179.0,111.0 L184.0,109.5 L186.5,107.5"/><path d="M158.0,101.9 L157.0,106.0 L158.0,110.0 L156.0,114.0 L154.0,114.7"/><path d="M154.4,127.1 L160.0,126.0 L164.0,124.6 L171.3,122.2"/><path d="M158.0,131.9 L162.0,131.5 L166.4,130.7 L173.7,128.3"/><path d="M155.6,121.0 L160.4,124.6 L161.6,130.7 L160.4,136.7"/><path d="M164.0,119.8 L165.2,124.6 L167.6,128.3"/><path d="M153.0,136.0 L157.0,135.5 L160.4,136.7 L163.3,136.8"/></g>
<g fill="none" stroke="#df4b2b" stroke-width="1.2" stroke-linejoin="round"><path d="M151.6,110.0 L151.0,106.5 L152.2,103.6 L155.1,100.7 L158.0,101.9 L160.3,103.0 L163.3,102.5 L166.7,101.3 L170.2,100.1 L173.7,97.8 L179.5,97.2 L181.3,100.1 L183.0,103.6 L187.0,104.5"/><path d="M163.3,115.3 L165.6,111.8 L169.1,110.0 L171.4,108.3 L173.7,111.2 L174.9,113.5 L174.3,115.8 L171.4,117.0 L169.1,117.0 L166.7,117.6 L164.4,117.0Z"/><path d="M174.9,114.1 L177.2,114.7 L178.4,117.0 L179.0,120.5 L177.2,122.2 L176.0,123.4 L173.7,122.2 L172.0,119.9 L173.1,117.0Z"/><path d="M36.1,95.6 L42.9,96.4 L52.9,96.8 L60.4,96.2 L66.6,97.4 L72.8,98.7 L79.1,100.5 L85.3,102.4 L90.0,102.6 L94.2,101.8 L100.5,99.9 L106.7,98.7 L112.9,98.1 L119.1,97.2 L122.5,96.8 L126.2,95.3 L130.0,92.8 L133.7,90.3 L137.4,88.4 L136.2,87.2 L134.9,84.7 L136.8,81.5 L139.9,81.2 L144.9,81.6 L151.1,80.3 L156.1,77.9 L161.1,76.6 L166.1,75.4 L168.7,72.0 L170.9,70.5 L175.3,69.5 L180.4,69.1 L185.5,68.7 L190.5,69.5 L192.7,68.7 L192.0,66.9 L189.1,64.0 L184.7,60.7 L181.1,59.6 L177.5,60.4 L174.5,61.8 L170.9,61.1 L167.3,61.5 L164.4,61.1 L162.9,59.3 L165.1,55.3 L167.3,51.6 L169.5,48.0 L170.9,47.3 L173.1,48.4 L176.7,49.5 L181.1,48.0 L185.5,45.8 L188.0,44.4 L189.1,42.2 L190.0,39.2 L191.2,35.4 L192.5,31.7 L193.7,28.6 L193.4,27.3 L195.6,25.5 L198.7,24.0 L203.0,23.6 L204.9,24.8 L204.3,26.7 L203.0,28.2 L206.2,29.2 L209.9,29.8 L211.8,31.7 L213.0,34.8 L214.2,37.3 L217.4,37.3 L222.3,36.7 L227.3,35.4 L229.8,34.8 L232.3,36.0 L234.2,38.5 L234.2,40.4 L232.3,42.3 L230.4,44.8 L229.8,47.9 L228.6,51.0 L226.1,53.5 L224.2,55.4 L223.6,57.2 L224.2,59.1 L223.0,59.7 L219.8,60.3 L217.4,61.0 L214.9,62.0 L212.4,64.5 L211.0,66.0 L213.7,67.0 L217.2,67.6 L217.8,68.7 L214.9,69.3 L213.7,71.6 L211.4,73.4 L207.9,74.0 L205.6,75.1 L206.2,77.4 L207.9,80.3 L208.5,83.3 L210.2,85.0 L213.7,84.4 L216.0,86.2 L217.2,89.1 L218.4,92.6 L217.2,94.9 L213.7,95.5 L209.1,96.6 L204.4,97.8 L199.8,99.0 L196.3,100.1 L192.8,102.4 L190.5,100.7 L188.1,101.9 L187.0,104.5 L186.5,107.5 L188.0,110.5 L190.8,113.0 L191.2,115.3 L188.8,117.0 L186.5,118.2 L184.2,119.9 L181.3,121.1 L179.0,120.5 L177.2,121.1 L178.4,123.4 L178.4,126.3 L176.0,127.5 L173.7,129.2 L171.4,131.0 L169.1,132.7 L166.7,134.4 L163.3,136.8 L161.5,139.7 L160.3,141.4 L157.4,141.4 L154.0,140.3 L151.0,139.1 L148.7,137.9 L149.3,135.0 L150.5,131.5 L149.9,128.0 L149.3,124.6 L151.6,121.7 L154.0,119.3 L153.4,116.4 L154.0,114.7 L152.2,112.3 L151.6,110.0 L147.0,111.2 L143.5,111.8 L140.0,113.5 L137.8,116.1 L136.6,117.4 L132.8,118.6 L129.1,119.9 L125.4,122.3 L121.6,124.8 L119.1,127.3 L116.6,129.8 L114.2,131.7 L110.4,131.1 L106.7,129.2 L102.9,127.9 L101.1,126.1 L101.7,122.3 L101.1,119.9 L99.2,121.1 L96.7,123.6 L95.5,127.3 L91.7,129.8 L88.0,131.1 L86.5,131.7 L82.8,131.1 L80.3,129.8 L79.7,127.3 L81.5,124.2 L84.0,121.1 L82.8,119.2 L77.8,119.9 L72.8,120.5 L69.1,122.3 L67.9,124.2 L65.4,123.0 L61.6,120.5 L59.1,118.6 L55.4,116.7 L52.9,115.5 L55.4,113.6 L56.0,111.1 L54.2,109.3 L49.8,109.9 L45.4,110.5 L43.6,107.4 L40.5,104.9 L39.8,102.4 L38.0,98.7Z"/></g>
</g><g id="mapg4"><g clip-path="url(#clipIM)">
<g filter="url(#blur2)">
 <rect x="20" y="15" width="230" height="140" fill="#5abd78"/>
 <path d="M0,80 L90,80 L90,103 L100,112 L104,117 L103,126 L100,145 L0,145Z" fill="#edf6ee"/>
 <path d="M84,100 L92,103 L100,113 L102,125 L97,132 L86,128Z" fill="#d3eddb"/>
 <path d="M90,100 L125,95 L130,104 L112,109 L100,112Z" fill="#9ad8ab"/>
 <path d="M102,112 L128,106 L140,110 L140,122 L118,134 L104,130Z" fill="#4cb670"/>
 <path d="M128,100 L150,100 L152,112 L138,116 L130,110Z" fill="#3ea964"/>
 <path d="M134,80 L170,70 L185,68 L190,80 L185,92 L160,96 L140,98 L134,92Z" fill="#74cb8b"/>
 <path d="M134,80 L158,74 L160,96 L140,98 L134,92Z" fill="#8fd4a2"/>
 <path d="M166,70 L190,66 L192,82 L186,92 L168,94Z" fill="#4cb670"/>
 <path d="M140,92 L160,94 L182,90 L186,100 L150,104Z" fill="#5abd78"/>
 <path d="M178,80 L215,78 L222,100 L185,102Z" fill="#43af69"/>
 <path d="M186,62 L212,60 L215,80 L190,82Z" fill="#137f3f"/>
 <path d="M155,38 L180,38 L180,66 L155,66Z" fill="#5cbd7b"/>
 <path d="M176,38 L194,38 L196,66 L176,66Z" fill="#2f9d56"/>
 <path d="M188,15 L245,15 L245,68 L215,66 L200,64 L190,62Z" fill="#0b7f3a"/>
 <path d="M192,30 L208,26 L210,45 L206,64 L194,64Z" fill="#0a6a32"/>
 <path d="M214,42 L226,42 L226,50 L214,54Z" fill="#2a9350"/>
 <path d="M57,98 L63,98 L62,106 L59,111 L57,109Z" fill="#b5e0c0"/>
</g>
<path d="M59.5,98.5 L58.5,103 L59,107 L60.5,110.5 M62.5,99 L63,103 L62,107" fill="none" stroke="#5cc47c" stroke-width="0.9" stroke-opacity="0.8"/>

<g clip-path="url(#clipHB)"><g filter="url(#blur2)">
 <rect x="140" y="90" width="60" height="60" fill="#c49bd9"/>
 <path d="M140,90 L200,90 L200,111 L186,113 L178,116 L165,118 L155,119 L140,119Z" fill="#17964a"/>
 <path d="M148,98 L163,98 L164,110 L160,117 L148,118Z" fill="#7cc992"/>
 <path d="M140,116 L156,116 L158,124 L157,145 L140,145Z" fill="#38aa5f"/>
 <path d="M163,108 L175,107 L175,116 L164,116Z" fill="#2c9f56"/>
 <path d="M178,111 L195,108 L195,124 L178,124Z" fill="#d9c6e4"/>
 <path d="M172,116 L179,116 L179,124 L172,124Z" fill="#d6e6d8"/>
</g></g>
<rect x="30" y="20" width="210" height="128" filter="url(#specW)" opacity="0.38" mask="url(#mW)"/><rect x="98" y="20" width="142" height="128" filter="url(#specD)" opacity="0.3" /></g>
<g fill="none" stroke="#222" stroke-width="0.6" stroke-opacity="0.85"><path d="M91.4,103.5 L93.9,107.3 L97.7,110.5 L100.3,112.4 L102.2,114.9 L102.8,117.5 L101.5,120.0"/><path d="M100.3,112.4 L105.4,111.7 L110.5,111.1 L116.8,110.5 L123.2,110.8 L128.3,111.3 L133.4,113.0 L137.2,114.3 L139.0,115.0"/><path d="M119.4,97.5 L120.6,103.5 L121.9,107.3 L123.2,110.8"/><path d="M128.3,94.5 L129.5,99.6 L130.8,103.5 L132.1,106.0 L135.9,107.9 L138.5,109.2 L141.0,111.1"/><path d="M133.4,91.0 L138.5,95.8 L143.5,99.0 L148.6,100.9 L152.5,102.0"/><path d="M191.6,69.2 L190.9,75.4 L189.5,79.0 L186.5,81.2 L182.2,84.1 L177.8,86.3 L174.9,88.5 L172.0,90.6 L169.8,92.8 L169.1,95.0 L170.2,100.1"/><path d="M189.5,79.0 L193.8,81.2 L196.7,84.1 L198.9,87.0 L198.2,91.4 L197.5,94.3 L198.2,97.9 L199.0,99.0"/><path d="M193.3,79.9 L197.0,77.5 L200.0,75.7 L204.9,74.6"/><path d="M154.0,119.3 L158.0,118.5 L162.0,117.0 L164.4,117.0"/><path d="M165.9,118.3 L167.6,121.6 L169.2,125.7 L168.4,129.1 L166.7,132.4 L164.3,134.9"/><path d="M151.6,121.7 L154.3,125.7 L159.3,125.7 L164.3,126.6 L168.4,125.7"/><path d="M150.5,131.5 L155.1,131.6 L160.1,130.7 L163.4,131.6"/><path d="M161.8,127.4 L160.9,132.4 L160.1,136.5 L158.5,141.0"/><path d="M169.2,127.0 L172.0,128.0 L175.0,125.7 L178.4,124.5"/><path d="M163.3,102.5 L164.0,107.0 L165.6,111.8"/><path d="M174.9,113.5 L179.0,111.0 L184.0,109.5 L186.5,107.5"/><path d="M158.0,101.9 L157.0,106.0 L158.0,110.0 L156.0,114.0 L154.0,114.7"/><path d="M154.4,127.1 L160.0,126.0 L164.0,124.6 L171.3,122.2"/><path d="M158.0,131.9 L162.0,131.5 L166.4,130.7 L173.7,128.3"/><path d="M155.6,121.0 L160.4,124.6 L161.6,130.7 L160.4,136.7"/><path d="M164.0,119.8 L165.2,124.6 L167.6,128.3"/><path d="M153.0,136.0 L157.0,135.5 L160.4,136.7 L163.3,136.8"/></g>
<g fill="none" stroke="#df4b2b" stroke-width="1.2" stroke-linejoin="round"><path d="M151.6,110.0 L151.0,106.5 L152.2,103.6 L155.1,100.7 L158.0,101.9 L160.3,103.0 L163.3,102.5 L166.7,101.3 L170.2,100.1 L173.7,97.8 L179.5,97.2 L181.3,100.1 L183.0,103.6 L187.0,104.5"/><path d="M163.3,115.3 L165.6,111.8 L169.1,110.0 L171.4,108.3 L173.7,111.2 L174.9,113.5 L174.3,115.8 L171.4,117.0 L169.1,117.0 L166.7,117.6 L164.4,117.0Z"/><path d="M174.9,114.1 L177.2,114.7 L178.4,117.0 L179.0,120.5 L177.2,122.2 L176.0,123.4 L173.7,122.2 L172.0,119.9 L173.1,117.0Z"/><path d="M36.1,95.6 L42.9,96.4 L52.9,96.8 L60.4,96.2 L66.6,97.4 L72.8,98.7 L79.1,100.5 L85.3,102.4 L90.0,102.6 L94.2,101.8 L100.5,99.9 L106.7,98.7 L112.9,98.1 L119.1,97.2 L122.5,96.8 L126.2,95.3 L130.0,92.8 L133.7,90.3 L137.4,88.4 L136.2,87.2 L134.9,84.7 L136.8,81.5 L139.9,81.2 L144.9,81.6 L151.1,80.3 L156.1,77.9 L161.1,76.6 L166.1,75.4 L168.7,72.0 L170.9,70.5 L175.3,69.5 L180.4,69.1 L185.5,68.7 L190.5,69.5 L192.7,68.7 L192.0,66.9 L189.1,64.0 L184.7,60.7 L181.1,59.6 L177.5,60.4 L174.5,61.8 L170.9,61.1 L167.3,61.5 L164.4,61.1 L162.9,59.3 L165.1,55.3 L167.3,51.6 L169.5,48.0 L170.9,47.3 L173.1,48.4 L176.7,49.5 L181.1,48.0 L185.5,45.8 L188.0,44.4 L189.1,42.2 L190.0,39.2 L191.2,35.4 L192.5,31.7 L193.7,28.6 L193.4,27.3 L195.6,25.5 L198.7,24.0 L203.0,23.6 L204.9,24.8 L204.3,26.7 L203.0,28.2 L206.2,29.2 L209.9,29.8 L211.8,31.7 L213.0,34.8 L214.2,37.3 L217.4,37.3 L222.3,36.7 L227.3,35.4 L229.8,34.8 L232.3,36.0 L234.2,38.5 L234.2,40.4 L232.3,42.3 L230.4,44.8 L229.8,47.9 L228.6,51.0 L226.1,53.5 L224.2,55.4 L223.6,57.2 L224.2,59.1 L223.0,59.7 L219.8,60.3 L217.4,61.0 L214.9,62.0 L212.4,64.5 L211.0,66.0 L213.7,67.0 L217.2,67.6 L217.8,68.7 L214.9,69.3 L213.7,71.6 L211.4,73.4 L207.9,74.0 L205.6,75.1 L206.2,77.4 L207.9,80.3 L208.5,83.3 L210.2,85.0 L213.7,84.4 L216.0,86.2 L217.2,89.1 L218.4,92.6 L217.2,94.9 L213.7,95.5 L209.1,96.6 L204.4,97.8 L199.8,99.0 L196.3,100.1 L192.8,102.4 L190.5,100.7 L188.1,101.9 L187.0,104.5 L186.5,107.5 L188.0,110.5 L190.8,113.0 L191.2,115.3 L188.8,117.0 L186.5,118.2 L184.2,119.9 L181.3,121.1 L179.0,120.5 L177.2,121.1 L178.4,123.4 L178.4,126.3 L176.0,127.5 L173.7,129.2 L171.4,131.0 L169.1,132.7 L166.7,134.4 L163.3,136.8 L161.5,139.7 L160.3,141.4 L157.4,141.4 L154.0,140.3 L151.0,139.1 L148.7,137.9 L149.3,135.0 L150.5,131.5 L149.9,128.0 L149.3,124.6 L151.6,121.7 L154.0,119.3 L153.4,116.4 L154.0,114.7 L152.2,112.3 L151.6,110.0 L147.0,111.2 L143.5,111.8 L140.0,113.5 L137.8,116.1 L136.6,117.4 L132.8,118.6 L129.1,119.9 L125.4,122.3 L121.6,124.8 L119.1,127.3 L116.6,129.8 L114.2,131.7 L110.4,131.1 L106.7,129.2 L102.9,127.9 L101.1,126.1 L101.7,122.3 L101.1,119.9 L99.2,121.1 L96.7,123.6 L95.5,127.3 L91.7,129.8 L88.0,131.1 L86.5,131.7 L82.8,131.1 L80.3,129.8 L79.7,127.3 L81.5,124.2 L84.0,121.1 L82.8,119.2 L77.8,119.9 L72.8,120.5 L69.1,122.3 L67.9,124.2 L65.4,123.0 L61.6,120.5 L59.1,118.6 L55.4,116.7 L52.9,115.5 L55.4,113.6 L56.0,111.1 L54.2,109.3 L49.8,109.9 L45.4,110.5 L43.6,107.4 L40.5,104.9 L39.8,102.4 L38.0,98.7Z"/></g>
</g>
<g id="mapslope"><g clip-path="url(#clipIM)">
<g filter="url(#blur2)">
 <rect x="20" y="15" width="230" height="140" fill="#4585c0"/>
 <path d="M0,80 L90,80 L90,103 L100,112 L104,117 L103,126 L100,145 L0,145Z" fill="#ebf1f7"/>
 <path d="M84,100 L92,103 L100,113 L102,125 L97,132 L86,128Z" fill="#d5e4f1"/>
 <path d="M90,100 L125,95 L130,104 L112,109 L100,112Z" fill="#8fbbdf"/>
 <path d="M102,112 L128,106 L140,110 L140,122 L118,134 L104,130Z" fill="#5b97ca"/>
 <path d="M128,100 L150,100 L152,112 L138,116 L130,110Z" fill="#4787c2"/>
 <path d="M134,80 L170,70 L185,68 L190,80 L185,92 L160,96 L140,98 L134,92Z" fill="#225f9f"/>
 <path d="M140,92 L160,94 L182,90 L186,100 L150,104Z" fill="#2d6dad"/>
 <path d="M178,80 L215,78 L222,100 L185,102Z" fill="#6aa2ce"/>
 <path d="M186,62 L212,60 L215,80 L190,82Z" fill="#3f7fb9"/>
 <path d="M155,38 L194,38 L194,66 L155,66Z" fill="#0e4686"/>
 <path d="M188,15 L245,15 L245,68 L215,66 L200,64 L194,62Z" fill="#3f7eb8"/>
 <path d="M196,26 L212,28 L219,40 L218,52 L212,60 L202,58 L198,44Z" fill="#b4c6dc"/>
 <path d="M194,18 L210,18 L208,28 L196,30Z" fill="#8fb1d4"/>
 <path d="M188,30 L195,30 L196,64 L188,64Z" fill="#1f5d9c"/>
 <path d="M57,98 L63,98 L62,106 L59,111 L57,109Z" fill="#9fc3e2"/>
</g>
<g clip-path="url(#clipHB)"><g filter="url(#blur2)">
 <rect x="140" y="90" width="60" height="60" fill="#f6f8fb"/>
 <path d="M148,95 L195,95 L195,112 L183,118 L175,112 L162,118 L148,118Z" fill="#a9cbe5"/>
</g></g>
<rect x="30" y="20" width="210" height="128" filter="url(#specW)" opacity="0.38" mask="url(#mB)"/><rect x="98" y="20" width="142" height="128" filter="url(#specB)" opacity="0.45" mask="url(#mB)"/></g>
<g fill="none" stroke="#222" stroke-width="0.6" stroke-opacity="0.85"><path d="M91.4,103.5 L93.9,107.3 L97.7,110.5 L100.3,112.4 L102.2,114.9 L102.8,117.5 L101.5,120.0"/><path d="M100.3,112.4 L105.4,111.7 L110.5,111.1 L116.8,110.5 L123.2,110.8 L128.3,111.3 L133.4,113.0 L137.2,114.3 L139.0,115.0"/><path d="M119.4,97.5 L120.6,103.5 L121.9,107.3 L123.2,110.8"/><path d="M128.3,94.5 L129.5,99.6 L130.8,103.5 L132.1,106.0 L135.9,107.9 L138.5,109.2 L141.0,111.1"/><path d="M133.4,91.0 L138.5,95.8 L143.5,99.0 L148.6,100.9 L152.5,102.0"/><path d="M191.6,69.2 L190.9,75.4 L189.5,79.0 L186.5,81.2 L182.2,84.1 L177.8,86.3 L174.9,88.5 L172.0,90.6 L169.8,92.8 L169.1,95.0 L170.2,100.1"/><path d="M189.5,79.0 L193.8,81.2 L196.7,84.1 L198.9,87.0 L198.2,91.4 L197.5,94.3 L198.2,97.9 L199.0,99.0"/><path d="M193.3,79.9 L197.0,77.5 L200.0,75.7 L204.9,74.6"/><path d="M154.0,119.3 L158.0,118.5 L162.0,117.0 L164.4,117.0"/><path d="M165.9,118.3 L167.6,121.6 L169.2,125.7 L168.4,129.1 L166.7,132.4 L164.3,134.9"/><path d="M151.6,121.7 L154.3,125.7 L159.3,125.7 L164.3,126.6 L168.4,125.7"/><path d="M150.5,131.5 L155.1,131.6 L160.1,130.7 L163.4,131.6"/><path d="M161.8,127.4 L160.9,132.4 L160.1,136.5 L158.5,141.0"/><path d="M169.2,127.0 L172.0,128.0 L175.0,125.7 L178.4,124.5"/><path d="M163.3,102.5 L164.0,107.0 L165.6,111.8"/><path d="M174.9,113.5 L179.0,111.0 L184.0,109.5 L186.5,107.5"/><path d="M158.0,101.9 L157.0,106.0 L158.0,110.0 L156.0,114.0 L154.0,114.7"/><path d="M154.4,127.1 L160.0,126.0 L164.0,124.6 L171.3,122.2"/><path d="M158.0,131.9 L162.0,131.5 L166.4,130.7 L173.7,128.3"/><path d="M155.6,121.0 L160.4,124.6 L161.6,130.7 L160.4,136.7"/><path d="M164.0,119.8 L165.2,124.6 L167.6,128.3"/><path d="M153.0,136.0 L157.0,135.5 L160.4,136.7 L163.3,136.8"/></g>
<g fill="none" stroke="#df4b2b" stroke-width="1.2" stroke-linejoin="round"><path d="M151.6,110.0 L151.0,106.5 L152.2,103.6 L155.1,100.7 L158.0,101.9 L160.3,103.0 L163.3,102.5 L166.7,101.3 L170.2,100.1 L173.7,97.8 L179.5,97.2 L181.3,100.1 L183.0,103.6 L187.0,104.5"/><path d="M163.3,115.3 L165.6,111.8 L169.1,110.0 L171.4,108.3 L173.7,111.2 L174.9,113.5 L174.3,115.8 L171.4,117.0 L169.1,117.0 L166.7,117.6 L164.4,117.0Z"/><path d="M174.9,114.1 L177.2,114.7 L178.4,117.0 L179.0,120.5 L177.2,122.2 L176.0,123.4 L173.7,122.2 L172.0,119.9 L173.1,117.0Z"/><path d="M36.1,95.6 L42.9,96.4 L52.9,96.8 L60.4,96.2 L66.6,97.4 L72.8,98.7 L79.1,100.5 L85.3,102.4 L90.0,102.6 L94.2,101.8 L100.5,99.9 L106.7,98.7 L112.9,98.1 L119.1,97.2 L122.5,96.8 L126.2,95.3 L130.0,92.8 L133.7,90.3 L137.4,88.4 L136.2,87.2 L134.9,84.7 L136.8,81.5 L139.9,81.2 L144.9,81.6 L151.1,80.3 L156.1,77.9 L161.1,76.6 L166.1,75.4 L168.7,72.0 L170.9,70.5 L175.3,69.5 L180.4,69.1 L185.5,68.7 L190.5,69.5 L192.7,68.7 L192.0,66.9 L189.1,64.0 L184.7,60.7 L181.1,59.6 L177.5,60.4 L174.5,61.8 L170.9,61.1 L167.3,61.5 L164.4,61.1 L162.9,59.3 L165.1,55.3 L167.3,51.6 L169.5,48.0 L170.9,47.3 L173.1,48.4 L176.7,49.5 L181.1,48.0 L185.5,45.8 L188.0,44.4 L189.1,42.2 L190.0,39.2 L191.2,35.4 L192.5,31.7 L193.7,28.6 L193.4,27.3 L195.6,25.5 L198.7,24.0 L203.0,23.6 L204.9,24.8 L204.3,26.7 L203.0,28.2 L206.2,29.2 L209.9,29.8 L211.8,31.7 L213.0,34.8 L214.2,37.3 L217.4,37.3 L222.3,36.7 L227.3,35.4 L229.8,34.8 L232.3,36.0 L234.2,38.5 L234.2,40.4 L232.3,42.3 L230.4,44.8 L229.8,47.9 L228.6,51.0 L226.1,53.5 L224.2,55.4 L223.6,57.2 L224.2,59.1 L223.0,59.7 L219.8,60.3 L217.4,61.0 L214.9,62.0 L212.4,64.5 L211.0,66.0 L213.7,67.0 L217.2,67.6 L217.8,68.7 L214.9,69.3 L213.7,71.6 L211.4,73.4 L207.9,74.0 L205.6,75.1 L206.2,77.4 L207.9,80.3 L208.5,83.3 L210.2,85.0 L213.7,84.4 L216.0,86.2 L217.2,89.1 L218.4,92.6 L217.2,94.9 L213.7,95.5 L209.1,96.6 L204.4,97.8 L199.8,99.0 L196.3,100.1 L192.8,102.4 L190.5,100.7 L188.1,101.9 L187.0,104.5 L186.5,107.5 L188.0,110.5 L190.8,113.0 L191.2,115.3 L188.8,117.0 L186.5,118.2 L184.2,119.9 L181.3,121.1 L179.0,120.5 L177.2,121.1 L178.4,123.4 L178.4,126.3 L176.0,127.5 L173.7,129.2 L171.4,131.0 L169.1,132.7 L166.7,134.4 L163.3,136.8 L161.5,139.7 L160.3,141.4 L157.4,141.4 L154.0,140.3 L151.0,139.1 L148.7,137.9 L149.3,135.0 L150.5,131.5 L149.9,128.0 L149.3,124.6 L151.6,121.7 L154.0,119.3 L153.4,116.4 L154.0,114.7 L152.2,112.3 L151.6,110.0 L147.0,111.2 L143.5,111.8 L140.0,113.5 L137.8,116.1 L136.6,117.4 L132.8,118.6 L129.1,119.9 L125.4,122.3 L121.6,124.8 L119.1,127.3 L116.6,129.8 L114.2,131.7 L110.4,131.1 L106.7,129.2 L102.9,127.9 L101.1,126.1 L101.7,122.3 L101.1,119.9 L99.2,121.1 L96.7,123.6 L95.5,127.3 L91.7,129.8 L88.0,131.1 L86.5,131.7 L82.8,131.1 L80.3,129.8 L79.7,127.3 L81.5,124.2 L84.0,121.1 L82.8,119.2 L77.8,119.9 L72.8,120.5 L69.1,122.3 L67.9,124.2 L65.4,123.0 L61.6,120.5 L59.1,118.6 L55.4,116.7 L52.9,115.5 L55.4,113.6 L56.0,111.1 L54.2,109.3 L49.8,109.9 L45.4,110.5 L43.6,107.4 L40.5,104.9 L39.8,102.4 L38.0,98.7Z"/></g>
</g>
</defs>

<g transform="translate(0,0)"><text x="136.3" y="15.7" font-size="11.4" text-anchor="middle" style="white-space:pre">Regulating services balance in 2000</text><rect x="28.5" y="19.6" width="213.1" height="129.7" fill="#fff" stroke="#666" stroke-width="0.9"/><use href="#mapg0"/><rect x="28.5" y="19.5" width="89.5" height="52.7" fill="#fff" stroke="#666" stroke-width="0.9"/><rect x="33.8" y="35.2" width="11.8" height="31.3" fill="#6f9b72"/><rect x="51.0" y="36.1" width="11.8" height="30.4" fill="#8fb891"/><rect x="68.1" y="66.5" width="11.8" height="2.2" fill="#f3bde0"/><rect x="85.1" y="50.2" width="11.8" height="16.3" fill="#a9d7ab"/><rect x="102.0" y="32.4" width="11.8" height="34.1" fill="#52835a"/><line x1="28.5" x2="119.5" y1="66.5" y2="66.5" stroke="#555" stroke-width="0.7"/><line x1="118.0" x2="119.5" y1="36.5" y2="36.5" stroke="#555" stroke-width="0.7"/><text x="120.2" y="39.7" font-size="9.3">25</text><text x="120.5" y="69.7" font-size="9.3">0</text><text x="39.7" y="32.6" font-size="9.2" text-anchor="middle">26.1</text><text x="56.9" y="33.5" font-size="9.2" text-anchor="middle">25.3</text><text x="74.0" y="66.7" font-size="9.2" text-anchor="middle">-1.8</text><text x="91.0" y="47.6" font-size="9.2" text-anchor="middle">13.6</text><text x="107.9" y="29.8" font-size="9.2" text-anchor="middle">28.4</text><text x="39.7" y="81.6" font-size="9.3" text-anchor="middle">JJJM</text><text x="56.9" y="81.6" font-size="9.3" text-anchor="middle">BJ</text><text x="74.0" y="81.6" font-size="9.3" text-anchor="middle">TJ</text><text x="91.0" y="81.6" font-size="9.3" text-anchor="middle">HB</text><text x="107.9" y="81.6" font-size="9.3" text-anchor="middle">IM</text><text x="25" y="49.5" font-size="9.3" text-anchor="end">50<tspan font-family="DejaVu Sans" font-size="8">°</tspan>N</text><text x="25" y="83.4" font-size="9.3" text-anchor="end">45<tspan font-family="DejaVu Sans" font-size="8">°</tspan>N</text><text x="25" y="117.6" font-size="9.3" text-anchor="end">40<tspan font-family="DejaVu Sans" font-size="8">°</tspan>N</text><text x="56.2" y="159.6" font-size="9.3" text-anchor="middle">100<tspan font-family="DejaVu Sans" font-size="8">°</tspan>E</text><text x="124.5" y="159.6" font-size="9.3" text-anchor="middle">110<tspan font-family="DejaVu Sans" font-size="8">°</tspan>E</text><text x="193.9" y="159.6" font-size="9.3" text-anchor="middle">120<tspan font-family="DejaVu Sans" font-size="8">°</tspan>E</text><text x="237.1" y="24.9" font-size="5.2" text-anchor="middle" style="stroke-width:0.15px">N</text><path d="M237.2,27.6 L234.1,36.8 L237.3,33.4 Z" fill="#111" stroke="#111" stroke-width="0.4"/><path d="M237.2,27.6 L239.9,36.5 L237.3,33.4 Z" fill="#666" stroke="#111" stroke-width="0.5"/><path d="M211.6,137.6 L211.6,140.2 L229.2,140.2 L229.2,137.6" fill="none" stroke="#222" stroke-width="0.8"/><text x="211.6" y="134.6" font-size="7.6" text-anchor="middle">0</text><text x="229" y="134.6" font-size="7.6" text-anchor="middle">200</text><text x="220.4" y="148.2" font-size="7.2" text-anchor="middle">km</text><path d="M244.4,26.0 L247.1,19.5 L249.8,26.0 L249.8,142.2 L247.1,148.7 L244.4,142.2Z" fill="url(#gGreenCB)"/><line x1="248.60000000000002" x2="249.8" y1="31.2" y2="31.2" stroke="#333" stroke-width="0.5"/><text x="252.20000000000002" y="35.1" font-size="9.3">90</text><line x1="248.60000000000002" x2="249.8" y1="46.4" y2="46.4" stroke="#333" stroke-width="0.5"/><text x="252.20000000000002" y="50.3" font-size="9.3">75</text><line x1="248.60000000000002" x2="249.8" y1="61.7" y2="61.7" stroke="#333" stroke-width="0.5"/><text x="252.20000000000002" y="65.6" font-size="9.3">60</text><line x1="248.60000000000002" x2="249.8" y1="76.9" y2="76.9" stroke="#333" stroke-width="0.5"/><text x="252.20000000000002" y="80.8" font-size="9.3">45</text><line x1="248.60000000000002" x2="249.8" y1="92.2" y2="92.2" stroke="#333" stroke-width="0.5"/><text x="252.20000000000002" y="96.1" font-size="9.3">30</text><line x1="248.60000000000002" x2="249.8" y1="107.4" y2="107.4" stroke="#333" stroke-width="0.5"/><text x="252.20000000000002" y="111.3" font-size="9.3">15</text><line x1="248.60000000000002" x2="249.8" y1="122.6" y2="122.6" stroke="#333" stroke-width="0.5"/><text x="252.20000000000002" y="126.5" font-size="9.3">0</text><line x1="248.60000000000002" x2="249.8" y1="137.9" y2="137.9" stroke="#333" stroke-width="0.5"/><text x="252.20000000000002" y="141.8" font-size="9.3">−15</text></g>
<g transform="translate(273.8,0)"><text x="136.3" y="15.7" font-size="11.4" text-anchor="middle" style="white-space:pre">Regulating services balance in 2005</text><rect x="28.5" y="19.6" width="213.1" height="129.7" fill="#fff" stroke="#666" stroke-width="0.9"/><use href="#mapg1"/><rect x="28.5" y="19.5" width="89.5" height="52.7" fill="#fff" stroke="#666" stroke-width="0.9"/><rect x="33.8" y="33.0" width="11.8" height="33.5" fill="#6f9b72"/><rect x="51.0" y="34.1" width="11.8" height="32.4" fill="#8fb891"/><rect x="68.1" y="66.5" width="11.8" height="3.1" fill="#f3bde0"/><rect x="85.1" y="48.3" width="11.8" height="18.2" fill="#a9d7ab"/><rect x="102.0" y="30.1" width="11.8" height="36.4" fill="#52835a"/><line x1="28.5" x2="119.5" y1="66.5" y2="66.5" stroke="#555" stroke-width="0.7"/><line x1="118.0" x2="119.5" y1="36.5" y2="36.5" stroke="#555" stroke-width="0.7"/><text x="120.2" y="39.7" font-size="9.3">25</text><text x="120.5" y="69.7" font-size="9.3">0</text><text x="39.7" y="30.4" font-size="9.2" text-anchor="middle">27.9</text><text x="56.9" y="31.5" font-size="9.2" text-anchor="middle">27.0</text><text x="74.0" y="67.6" font-size="9.2" text-anchor="middle">-2.6</text><text x="91.0" y="45.7" font-size="9.2" text-anchor="middle">15.2</text><text x="107.9" y="27.5" font-size="9.2" text-anchor="middle">30.3</text><text x="39.7" y="81.6" font-size="9.3" text-anchor="middle">JJJM</text><text x="56.9" y="81.6" font-size="9.3" text-anchor="middle">BJ</text><text x="74.0" y="81.6" font-size="9.3" text-anchor="middle">TJ</text><text x="91.0" y="81.6" font-size="9.3" text-anchor="middle">HB</text><text x="107.9" y="81.6" font-size="9.3" text-anchor="middle">IM</text><text x="25" y="49.5" font-size="9.3" text-anchor="end">50<tspan font-family="DejaVu Sans" font-size="8">°</tspan>N</text><text x="25" y="83.4" font-size="9.3" text-anchor="end">45<tspan font-family="DejaVu Sans" font-size="8">°</tspan>N</text><text x="25" y="117.6" font-size="9.3" text-anchor="end">40<tspan font-family="DejaVu Sans" font-size="8">°</tspan>N</text><text x="56.2" y="159.6" font-size="9.3" text-anchor="middle">100<tspan font-family="DejaVu Sans" font-size="8">°</tspan>E</text><text x="124.5" y="159.6" font-size="9.3" text-anchor="middle">110<tspan font-family="DejaVu Sans" font-size="8">°</tspan>E</text><text x="193.9" y="159.6" font-size="9.3" text-anchor="middle">120<tspan font-family="DejaVu Sans" font-size="8">°</tspan>E</text><text x="237.1" y="24.9" font-size="5.2" text-anchor="middle" style="stroke-width:0.15px">N</text><path d="M237.2,27.6 L234.1,36.8 L237.3,33.4 Z" fill="#111" stroke="#111" stroke-width="0.4"/><path d="M237.2,27.6 L239.9,36.5 L237.3,33.4 Z" fill="#666" stroke="#111" stroke-width="0.5"/><path d="M211.6,137.6 L211.6,140.2 L229.2,140.2 L229.2,137.6" fill="none" stroke="#222" stroke-width="0.8"/><text x="211.6" y="134.6" font-size="7.6" text-anchor="middle">0</text><text x="229" y="134.6" font-size="7.6" text-anchor="middle">200</text><text x="220.4" y="148.2" font-size="7.2" text-anchor="middle">km</text><path d="M244.4,26.0 L247.1,19.5 L249.8,26.0 L249.8,142.2 L247.1,148.7 L244.4,142.2Z" fill="url(#gGreenCB)"/><line x1="248.60000000000002" x2="249.8" y1="31.2" y2="31.2" stroke="#333" stroke-width="0.5"/><text x="252.20000000000002" y="35.1" font-size="9.3">90</text><line x1="248.60000000000002" x2="249.8" y1="46.4" y2="46.4" stroke="#333" stroke-width="0.5"/><text x="252.20000000000002" y="50.3" font-size="9.3">75</text><line x1="248.60000000000002" x2="249.8" y1="61.7" y2="61.7" stroke="#333" stroke-width="0.5"/><text x="252.20000000000002" y="65.6" font-size="9.3">60</text><line x1="248.60000000000002" x2="249.8" y1="76.9" y2="76.9" stroke="#333" stroke-width="0.5"/><text x="252.20000000000002" y="80.8" font-size="9.3">45</text><line x1="248.60000000000002" x2="249.8" y1="92.2" y2="92.2" stroke="#333" stroke-width="0.5"/><text x="252.20000000000002" y="96.1" font-size="9.3">30</text><line x1="248.60000000000002" x2="249.8" y1="107.4" y2="107.4" stroke="#333" stroke-width="0.5"/><text x="252.20000000000002" y="111.3" font-size="9.3">15</text><line x1="248.60000000000002" x2="249.8" y1="122.6" y2="122.6" stroke="#333" stroke-width="0.5"/><text x="252.20000000000002" y="126.5" font-size="9.3">0</text><line x1="248.60000000000002" x2="249.8" y1="137.9" y2="137.9" stroke="#333" stroke-width="0.5"/><text x="252.20000000000002" y="141.8" font-size="9.3">−15</text></g>
<g transform="translate(0,157.9)"><text x="136.3" y="15.7" font-size="11.4" text-anchor="middle" style="white-space:pre">Regulating services balance in 2010</text><rect x="28.5" y="19.6" width="213.1" height="129.7" fill="#fff" stroke="#666" stroke-width="0.9"/><use href="#mapg2"/><rect x="28.5" y="19.5" width="89.5" height="52.7" fill="#fff" stroke="#666" stroke-width="0.9"/><rect x="33.8" y="33.1" width="11.8" height="33.4" fill="#6f9b72"/><rect x="51.0" y="35.3" width="11.8" height="31.2" fill="#8fb891"/><rect x="68.1" y="66.5" width="11.8" height="3.5" fill="#f3bde0"/><rect x="85.1" y="48.6" width="11.8" height="17.9" fill="#a9d7ab"/><rect x="102.0" y="30.3" width="11.8" height="36.2" fill="#52835a"/><line x1="28.5" x2="119.5" y1="66.5" y2="66.5" stroke="#555" stroke-width="0.7"/><line x1="118.0" x2="119.5" y1="36.5" y2="36.5" stroke="#555" stroke-width="0.7"/><text x="120.2" y="39.7" font-size="9.3">25</text><text x="120.5" y="69.7" font-size="9.3">0</text><text x="39.7" y="30.5" font-size="9.2" text-anchor="middle">27.8</text><text x="56.9" y="32.7" font-size="9.2" text-anchor="middle">26.0</text><text x="74.0" y="68.0" font-size="9.2" text-anchor="middle">-2.9</text><text x="91.0" y="46.0" font-size="9.2" text-anchor="middle">14.9</text><text x="107.9" y="27.7" font-size="9.2" text-anchor="middle">30.2</text><text x="39.7" y="81.6" font-size="9.3" text-anchor="middle">JJJM</text><text x="56.9" y="81.6" font-size="9.3" text-anchor="middle">BJ</text><text x="74.0" y="81.6" font-size="9.3" text-anchor="middle">TJ</text><text x="91.0" y="81.6" font-size="9.3" text-anchor="middle">HB</text><text x="107.9" y="81.6" font-size="9.3" text-anchor="middle">IM</text><text x="25" y="49.5" font-size="9.3" text-anchor="end">50<tspan font-family="DejaVu Sans" font-size="8">°</tspan>N</text><text x="25" y="83.4" font-size="9.3" text-anchor="end">45<tspan font-family="DejaVu Sans" font-size="8">°</tspan>N</text><text x="25" y="117.6" font-size="9.3" text-anchor="end">40<tspan font-family="DejaVu Sans" font-size="8">°</tspan>N</text><text x="56.2" y="159.6" font-size="9.3" text-anchor="middle">100<tspan font-family="DejaVu Sans" font-size="8">°</tspan>E</text><text x="124.5" y="159.6" font-size="9.3" text-anchor="middle">110<tspan font-family="DejaVu Sans" font-size="8">°</tspan>E</text><text x="193.9" y="159.6" font-size="9.3" text-anchor="middle">120<tspan font-family="DejaVu Sans" font-size="8">°</tspan>E</text><text x="237.1" y="24.9" font-size="5.2" text-anchor="middle" style="stroke-width:0.15px">N</text><path d="M237.2,27.6 L234.1,36.8 L237.3,33.4 Z" fill="#111" stroke="#111" stroke-width="0.4"/><path d="M237.2,27.6 L239.9,36.5 L237.3,33.4 Z" fill="#666" stroke="#111" stroke-width="0.5"/><path d="M211.6,137.6 L211.6,140.2 L229.2,140.2 L229.2,137.6" fill="none" stroke="#222" stroke-width="0.8"/><text x="211.6" y="134.6" font-size="7.6" text-anchor="middle">0</text><text x="229" y="134.6" font-size="7.6" text-anchor="middle">200</text><text x="220.4" y="148.2" font-size="7.2" text-anchor="middle">km</text><path d="M244.4,26.0 L247.1,19.5 L249.8,26.0 L249.8,142.2 L247.1,148.7 L244.4,142.2Z" fill="url(#gGreenCB)"/><line x1="248.60000000000002" x2="249.8" y1="31.2" y2="31.2" stroke="#333" stroke-width="0.5"/><text x="252.20000000000002" y="35.1" font-size="9.3">90</text><line x1="248.60000000000002" x2="249.8" y1="46.4" y2="46.4" stroke="#333" stroke-width="0.5"/><text x="252.20000000000002" y="50.3" font-size="9.3">75</text><line x1="248.60000000000002" x2="249.8" y1="61.7" y2="61.7" stroke="#333" stroke-width="0.5"/><text x="252.20000000000002" y="65.6" font-size="9.3">60</text><line x1="248.60000000000002" x2="249.8" y1="76.9" y2="76.9" stroke="#333" stroke-width="0.5"/><text x="252.20000000000002" y="80.8" font-size="9.3">45</text><line x1="248.60000000000002" x2="249.8" y1="92.2" y2="92.2" stroke="#333" stroke-width="0.5"/><text x="252.20000000000002" y="96.1" font-size="9.3">30</text><line x1="248.60000000000002" x2="249.8" y1="107.4" y2="107.4" stroke="#333" stroke-width="0.5"/><text x="252.20000000000002" y="111.3" font-size="9.3">15</text><line x1="248.60000000000002" x2="249.8" y1="122.6" y2="122.6" stroke="#333" stroke-width="0.5"/><text x="252.20000000000002" y="126.5" font-size="9.3">0</text><line x1="248.60000000000002" x2="249.8" y1="137.9" y2="137.9" stroke="#333" stroke-width="0.5"/><text x="252.20000000000002" y="141.8" font-size="9.3">−15</text></g>
<g transform="translate(273.8,157.9)"><text x="136.3" y="15.7" font-size="11.4" text-anchor="middle" style="white-space:pre">Regulating services balance in 2015</text><rect x="28.5" y="19.6" width="213.1" height="129.7" fill="#fff" stroke="#666" stroke-width="0.9"/><use href="#mapg3"/><rect x="28.5" y="19.5" width="89.5" height="52.7" fill="#fff" stroke="#666" stroke-width="0.9"/><rect x="33.8" y="34.5" width="11.8" height="32.0" fill="#6f9b72"/><rect x="51.0" y="38.2" width="11.8" height="28.3" fill="#8fb891"/><rect x="68.1" y="66.5" width="11.8" height="5.4" fill="#f3bde0"/><rect x="85.1" y="50.1" width="11.8" height="16.4" fill="#a9d7ab"/><rect x="102.0" y="31.6" width="11.8" height="34.9" fill="#52835a"/><line x1="28.5" x2="119.5" y1="66.5" y2="66.5" stroke="#555" stroke-width="0.7"/><line x1="118.0" x2="119.5" y1="36.5" y2="36.5" stroke="#555" stroke-width="0.7"/><text x="120.2" y="39.7" font-size="9.3">25</text><text x="120.5" y="69.7" font-size="9.3">0</text><text x="39.7" y="31.9" font-size="9.2" text-anchor="middle">26.7</text><text x="56.9" y="35.6" font-size="9.2" text-anchor="middle">23.6</text><text x="74.0" y="69.9" font-size="9.2" text-anchor="middle">-4.5</text><text x="91.0" y="47.5" font-size="9.2" text-anchor="middle">13.7</text><text x="107.9" y="29.0" font-size="9.2" text-anchor="middle">29.1</text><text x="39.7" y="81.6" font-size="9.3" text-anchor="middle">JJJM</text><text x="56.9" y="81.6" font-size="9.3" text-anchor="middle">BJ</text><text x="74.0" y="81.6" font-size="9.3" text-anchor="middle">TJ</text><text x="91.0" y="81.6" font-size="9.3" text-anchor="middle">HB</text><text x="107.9" y="81.6" font-size="9.3" text-anchor="middle">IM</text><text x="25" y="49.5" font-size="9.3" text-anchor="end">50<tspan font-family="DejaVu Sans" font-size="8">°</tspan>N</text><text x="25" y="83.4" font-size="9.3" text-anchor="end">45<tspan font-family="DejaVu Sans" font-size="8">°</tspan>N</text><text x="25" y="117.6" font-size="9.3" text-anchor="end">40<tspan font-family="DejaVu Sans" font-size="8">°</tspan>N</text><text x="56.2" y="159.6" font-size="9.3" text-anchor="middle">100<tspan font-family="DejaVu Sans" font-size="8">°</tspan>E</text><text x="124.5" y="159.6" font-size="9.3" text-anchor="middle">110<tspan font-family="DejaVu Sans" font-size="8">°</tspan>E</text><text x="193.9" y="159.6" font-size="9.3" text-anchor="middle">120<tspan font-family="DejaVu Sans" font-size="8">°</tspan>E</text><text x="237.1" y="24.9" font-size="5.2" text-anchor="middle" style="stroke-width:0.15px">N</text><path d="M237.2,27.6 L234.1,36.8 L237.3,33.4 Z" fill="#111" stroke="#111" stroke-width="0.4"/><path d="M237.2,27.6 L239.9,36.5 L237.3,33.4 Z" fill="#666" stroke="#111" stroke-width="0.5"/><path d="M211.6,137.6 L211.6,140.2 L229.2,140.2 L229.2,137.6" fill="none" stroke="#222" stroke-width="0.8"/><text x="211.6" y="134.6" font-size="7.6" text-anchor="middle">0</text><text x="229" y="134.6" font-size="7.6" text-anchor="middle">200</text><text x="220.4" y="148.2" font-size="7.2" text-anchor="middle">km</text><path d="M244.4,26.0 L247.1,19.5 L249.8,26.0 L249.8,142.2 L247.1,148.7 L244.4,142.2Z" fill="url(#gGreenCB)"/><line x1="248.60000000000002" x2="249.8" y1="31.2" y2="31.2" stroke="#333" stroke-width="0.5"/><text x="252.20000000000002" y="35.1" font-size="9.3">90</text><line x1="248.60000000000002" x2="249.8" y1="46.4" y2="46.4" stroke="#333" stroke-width="0.5"/><text x="252.20000000000002" y="50.3" font-size="9.3">75</text><line x1="248.60000000000002" x2="249.8" y1="61.7" y2="61.7" stroke="#333" stroke-width="0.5"/><text x="252.20000000000002" y="65.6" font-size="9.3">60</text><line x1="248.60000000000002" x2="249.8" y1="76.9" y2="76.9" stroke="#333" stroke-width="0.5"/><text x="252.20000000000002" y="80.8" font-size="9.3">45</text><line x1="248.60000000000002" x2="249.8" y1="92.2" y2="92.2" stroke="#333" stroke-width="0.5"/><text x="252.20000000000002" y="96.1" font-size="9.3">30</text><line x1="248.60000000000002" x2="249.8" y1="107.4" y2="107.4" stroke="#333" stroke-width="0.5"/><text x="252.20000000000002" y="111.3" font-size="9.3">15</text><line x1="248.60000000000002" x2="249.8" y1="122.6" y2="122.6" stroke="#333" stroke-width="0.5"/><text x="252.20000000000002" y="126.5" font-size="9.3">0</text><line x1="248.60000000000002" x2="249.8" y1="137.9" y2="137.9" stroke="#333" stroke-width="0.5"/><text x="252.20000000000002" y="141.8" font-size="9.3">−15</text></g>
<g transform="translate(0,315.8)"><text x="136.3" y="15.7" font-size="11.4" text-anchor="middle" style="white-space:pre">Regulating services balance in 2020</text><rect x="28.5" y="19.6" width="213.1" height="129.7" fill="#fff" stroke="#666" stroke-width="0.9"/><use href="#mapg4"/><rect x="28.5" y="19.5" width="89.5" height="52.7" fill="#fff" stroke="#666" stroke-width="0.9"/><rect x="33.8" y="33.0" width="11.8" height="33.5" fill="#6f9b72"/><rect x="51.0" y="38.7" width="11.8" height="27.8" fill="#8fb891"/><rect x="68.1" y="66.5" width="11.8" height="5.6" fill="#f3bde0"/><rect x="85.1" y="50.5" width="11.8" height="16.0" fill="#a9d7ab"/><rect x="102.0" y="29.8" width="11.8" height="36.7" fill="#52835a"/><line x1="28.5" x2="119.5" y1="66.5" y2="66.5" stroke="#555" stroke-width="0.7"/><line x1="118.0" x2="119.5" y1="36.5" y2="36.5" stroke="#555" stroke-width="0.7"/><text x="120.2" y="39.7" font-size="9.3">25</text><text x="120.5" y="69.7" font-size="9.3">0</text><text x="39.7" y="30.4" font-size="9.2" text-anchor="middle">27.9</text><text x="56.9" y="36.1" font-size="9.2" text-anchor="middle">23.2</text><text x="74.0" y="70.1" font-size="9.2" text-anchor="middle">-4.7</text><text x="91.0" y="47.9" font-size="9.2" text-anchor="middle">13.3</text><text x="107.9" y="27.2" font-size="9.2" text-anchor="middle">30.6</text><text x="39.7" y="81.6" font-size="9.3" text-anchor="middle">JJJM</text><text x="56.9" y="81.6" font-size="9.3" text-anchor="middle">BJ</text><text x="74.0" y="81.6" font-size="9.3" text-anchor="middle">TJ</text><text x="91.0" y="81.6" font-size="9.3" text-anchor="middle">HB</text><text x="107.9" y="81.6" font-size="9.3" text-anchor="middle">IM</text><text x="25" y="49.5" font-size="9.3" text-anchor="end">50<tspan font-family="DejaVu Sans" font-size="8">°</tspan>N</text><text x="25" y="83.4" font-size="9.3" text-anchor="end">45<tspan font-family="DejaVu Sans" font-size="8">°</tspan>N</text><text x="25" y="117.6" font-size="9.3" text-anchor="end">40<tspan font-family="DejaVu Sans" font-size="8">°</tspan>N</text><text x="56.2" y="159.6" font-size="9.3" text-anchor="middle">100<tspan font-family="DejaVu Sans" font-size="8">°</tspan>E</text><text x="124.5" y="159.6" font-size="9.3" text-anchor="middle">110<tspan font-family="DejaVu Sans" font-size="8">°</tspan>E</text><text x="193.9" y="159.6" font-size="9.3" text-anchor="middle">120<tspan font-family="DejaVu Sans" font-size="8">°</tspan>E</text><text x="237.1" y="24.9" font-size="5.2" text-anchor="middle" style="stroke-width:0.15px">N</text><path d="M237.2,27.6 L234.1,36.8 L237.3,33.4 Z" fill="#111" stroke="#111" stroke-width="0.4"/><path d="M237.2,27.6 L239.9,36.5 L237.3,33.4 Z" fill="#666" stroke="#111" stroke-width="0.5"/><path d="M211.6,137.6 L211.6,140.2 L229.2,140.2 L229.2,137.6" fill="none" stroke="#222" stroke-width="0.8"/><text x="211.6" y="134.6" font-size="7.6" text-anchor="middle">0</text><text x="229" y="134.6" font-size="7.6" text-anchor="middle">200</text><text x="220.4" y="148.2" font-size="7.2" text-anchor="middle">km</text><path d="M244.4,26.0 L247.1,19.5 L249.8,26.0 L249.8,142.2 L247.1,148.7 L244.4,142.2Z" fill="url(#gGreenCB)"/><line x1="248.60000000000002" x2="249.8" y1="31.2" y2="31.2" stroke="#333" stroke-width="0.5"/><text x="252.20000000000002" y="35.1" font-size="9.3">90</text><line x1="248.60000000000002" x2="249.8" y1="46.4" y2="46.4" stroke="#333" stroke-width="0.5"/><text x="252.20000000000002" y="50.3" font-size="9.3">75</text><line x1="248.60000000000002" x2="249.8" y1="61.7" y2="61.7" stroke="#333" stroke-width="0.5"/><text x="252.20000000000002" y="65.6" font-size="9.3">60</text><line x1="248.60000000000002" x2="249.8" y1="76.9" y2="76.9" stroke="#333" stroke-width="0.5"/><text x="252.20000000000002" y="80.8" font-size="9.3">45</text><line x1="248.60000000000002" x2="249.8" y1="92.2" y2="92.2" stroke="#333" stroke-width="0.5"/><text x="252.20000000000002" y="96.1" font-size="9.3">30</text><line x1="248.60000000000002" x2="249.8" y1="107.4" y2="107.4" stroke="#333" stroke-width="0.5"/><text x="252.20000000000002" y="111.3" font-size="9.3">15</text><line x1="248.60000000000002" x2="249.8" y1="122.6" y2="122.6" stroke="#333" stroke-width="0.5"/><text x="252.20000000000002" y="126.5" font-size="9.3">0</text><line x1="248.60000000000002" x2="249.8" y1="137.9" y2="137.9" stroke="#333" stroke-width="0.5"/><text x="252.20000000000002" y="141.8" font-size="9.3">−15</text></g>
<g transform="translate(275.9,315.7)"><text x="145.3" y="15.7" font-size="11.4" text-anchor="middle" style="white-space:pre">Slope of  Regulating services balance</text><rect x="28.5" y="19.6" width="213.1" height="129.7" fill="#fff" stroke="#666" stroke-width="0.9"/><use href="#mapslope"/><rect x="28.5" y="19.5" width="89.5" height="52.7" fill="#fff" stroke="#666" stroke-width="0.9"/><rect x="33.8" y="28.3" width="11.8" height="2.6" fill="#3f97cf"/><rect x="51.0" y="28.3" width="11.8" height="31.5" fill="#e0413f"/><rect x="68.1" y="28.3" width="11.8" height="23.8" fill="#f76b56"/><rect x="85.1" y="28.3" width="11.8" height="13.4" fill="#fcc6b0"/><line x1="28.5" x2="119.5" y1="28.3" y2="28.3" stroke="#555" stroke-width="0.7"/><line x1="118.0" x2="119.5" y1="65.3" y2="65.3" stroke="#555" stroke-width="0.7"/><text x="120.6" y="31.7" font-size="9.3">0.0</text><text x="120.0" y="68.5" font-size="9.3">−0.5</text><text x="42.3" y="38.8" font-size="9.3" text-anchor="middle">-0.045</text><text x="53.8" y="67.1" font-size="9.3" text-anchor="middle">-0.472</text><text x="78.5" y="59.8" font-size="9.3" text-anchor="middle">-0.326</text><text x="92.4" y="49.3" font-size="9.3" text-anchor="middle">-0.181</text><text x="105.7" y="28.6" font-size="9.3" text-anchor="middle">0.006</text><text x="39.7" y="81.6" font-size="9.3" text-anchor="middle">JJJM</text><text x="56.9" y="81.6" font-size="9.3" text-anchor="middle">BJ</text><text x="74.0" y="81.6" font-size="9.3" text-anchor="middle">TJ</text><text x="91.0" y="81.6" font-size="9.3" text-anchor="middle">HB</text><text x="107.9" y="81.6" font-size="9.3" text-anchor="middle">IM</text><text x="25" y="49.5" font-size="9.3" text-anchor="end">50<tspan font-family="DejaVu Sans" font-size="8">°</tspan>N</text><text x="25" y="83.4" font-size="9.3" text-anchor="end">45<tspan font-family="DejaVu Sans" font-size="8">°</tspan>N</text><text x="25" y="117.6" font-size="9.3" text-anchor="end">40<tspan font-family="DejaVu Sans" font-size="8">°</tspan>N</text><text x="56.2" y="159.6" font-size="9.3" text-anchor="middle">100<tspan font-family="DejaVu Sans" font-size="8">°</tspan>E</text><text x="124.5" y="159.6" font-size="9.3" text-anchor="middle">110<tspan font-family="DejaVu Sans" font-size="8">°</tspan>E</text><text x="193.9" y="159.6" font-size="9.3" text-anchor="middle">120<tspan font-family="DejaVu Sans" font-size="8">°</tspan>E</text><text x="237.1" y="24.9" font-size="5.2" text-anchor="middle" style="stroke-width:0.15px">N</text><path d="M237.2,27.6 L234.1,36.8 L237.3,33.4 Z" fill="#111" stroke="#111" stroke-width="0.4"/><path d="M237.2,27.6 L239.9,36.5 L237.3,33.4 Z" fill="#666" stroke="#111" stroke-width="0.5"/><path d="M211.6,137.6 L211.6,140.2 L229.2,140.2 L229.2,137.6" fill="none" stroke="#222" stroke-width="0.8"/><text x="211.6" y="134.6" font-size="7.6" text-anchor="middle">0</text><text x="229" y="134.6" font-size="7.6" text-anchor="middle">200</text><text x="220.4" y="148.2" font-size="7.2" text-anchor="middle">km</text><path d="M244.4,26.0 L247.1,19.5 L249.8,26.0 L249.8,142.2 L247.1,148.7 L244.4,142.2Z" fill="url(#gSlopeCB)"/><line x1="248.60000000000002" x2="249.8" y1="36.1" y2="36.1" stroke="#333" stroke-width="0.5"/><text x="252.20000000000002" y="40.0" font-size="9.3">2.4</text><line x1="248.60000000000002" x2="249.8" y1="48.0" y2="48.0" stroke="#333" stroke-width="0.5"/><text x="252.20000000000002" y="51.9" font-size="9.3">1.8</text><line x1="248.60000000000002" x2="249.8" y1="59.9" y2="59.9" stroke="#333" stroke-width="0.5"/><text x="252.20000000000002" y="63.8" font-size="9.3">1.2</text><line x1="248.60000000000002" x2="249.8" y1="71.8" y2="71.8" stroke="#333" stroke-width="0.5"/><text x="252.20000000000002" y="75.7" font-size="9.3">0.6</text><line x1="248.60000000000002" x2="249.8" y1="83.7" y2="83.7" stroke="#333" stroke-width="0.5"/><text x="252.20000000000002" y="87.6" font-size="9.3">0.0</text><line x1="248.60000000000002" x2="249.8" y1="95.6" y2="95.6" stroke="#333" stroke-width="0.5"/><text x="252.20000000000002" y="99.5" font-size="9.3">−0.6</text><line x1="248.60000000000002" x2="249.8" y1="107.5" y2="107.5" stroke="#333" stroke-width="0.5"/><text x="252.20000000000002" y="111.4" font-size="9.3">−1.2</text><line x1="248.60000000000002" x2="249.8" y1="119.4" y2="119.4" stroke="#333" stroke-width="0.5"/><text x="252.20000000000002" y="123.3" font-size="9.3">−1.8</text><line x1="248.60000000000002" x2="249.8" y1="131.3" y2="131.3" stroke="#333" stroke-width="0.5"/><text x="252.20000000000002" y="135.2" font-size="9.3">−2.4</text><line x1="248.60000000000002" x2="249.8" y1="143.2" y2="143.2" stroke="#333" stroke-width="0.5"/><text x="252.20000000000002" y="147.1" font-size="9.3">−3.0</text></g>

</svg>
</body></html>
